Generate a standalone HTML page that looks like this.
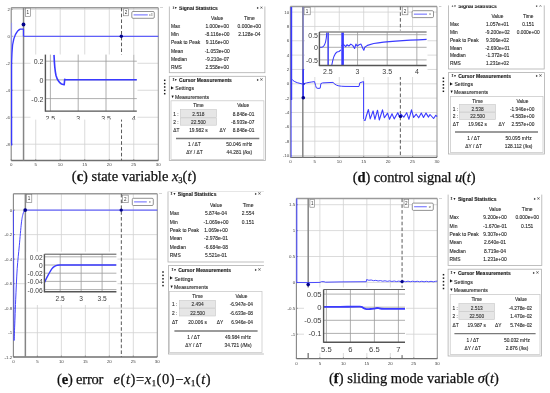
<!DOCTYPE html><html><head><meta charset="utf-8"><title>Simulation results</title><style>html,body{margin:0;padding:0;background:#fff;width:550px;height:393px;overflow:hidden}svg{display:block;position:absolute;left:0;top:0}.cap{position:absolute;white-space:nowrap;font-family:"Liberation Serif","Times New Roman",serif;color:#111;line-height:1}</style></head><body>
<svg width="550" height="393" viewBox="0 0 550 393">
<rect width="550" height="393" fill="#fff"/>
<line x1="35.72" y1="7.8" x2="35.72" y2="160.5" stroke="#d2d2d2" stroke-width="0.8" />
<line x1="60.23" y1="7.8" x2="60.23" y2="160.5" stroke="#d2d2d2" stroke-width="0.8" />
<line x1="84.75" y1="7.8" x2="84.75" y2="160.5" stroke="#d2d2d2" stroke-width="0.8" />
<line x1="109.27" y1="7.8" x2="109.27" y2="160.5" stroke="#d2d2d2" stroke-width="0.8" />
<line x1="133.78" y1="7.8" x2="133.78" y2="160.5" stroke="#d2d2d2" stroke-width="0.8" />
<line x1="11.2" y1="9.32" x2="158.3" y2="9.32" stroke="#d2d2d2" stroke-width="0.8" />
<line x1="11.2" y1="36.3" x2="158.3" y2="36.3" stroke="#d2d2d2" stroke-width="0.8" />
<line x1="11.2" y1="63.28" x2="158.3" y2="63.28" stroke="#d2d2d2" stroke-width="0.8" />
<line x1="11.2" y1="90.26" x2="158.3" y2="90.26" stroke="#d2d2d2" stroke-width="0.8" />
<line x1="11.2" y1="117.24" x2="158.3" y2="117.24" stroke="#d2d2d2" stroke-width="0.8" />
<line x1="11.2" y1="144.22" x2="158.3" y2="144.22" stroke="#d2d2d2" stroke-width="0.8" />
<text x="9.9" y="9.32" font-size="4.4" text-anchor="end" fill="#444" font-weight="normal" font-family="'Liberation Sans', Arial, sans-serif" dominant-baseline="central" >2</text>
<line x1="11.2" y1="9.32" x2="12.7" y2="9.32" stroke="#6a6a6a" stroke-width="0.6" />
<text x="9.9" y="36.3" font-size="4.4" text-anchor="end" fill="#444" font-weight="normal" font-family="'Liberation Sans', Arial, sans-serif" dominant-baseline="central" >0</text>
<line x1="11.2" y1="36.3" x2="12.7" y2="36.3" stroke="#6a6a6a" stroke-width="0.6" />
<text x="9.9" y="63.28" font-size="4.4" text-anchor="end" fill="#444" font-weight="normal" font-family="'Liberation Sans', Arial, sans-serif" dominant-baseline="central" >-2</text>
<line x1="11.2" y1="63.28" x2="12.7" y2="63.28" stroke="#6a6a6a" stroke-width="0.6" />
<text x="9.9" y="90.26" font-size="4.4" text-anchor="end" fill="#444" font-weight="normal" font-family="'Liberation Sans', Arial, sans-serif" dominant-baseline="central" >-4</text>
<line x1="11.2" y1="90.26" x2="12.7" y2="90.26" stroke="#6a6a6a" stroke-width="0.6" />
<text x="9.9" y="117.24" font-size="4.4" text-anchor="end" fill="#444" font-weight="normal" font-family="'Liberation Sans', Arial, sans-serif" dominant-baseline="central" >-6</text>
<line x1="11.2" y1="117.24" x2="12.7" y2="117.24" stroke="#6a6a6a" stroke-width="0.6" />
<text x="9.9" y="144.22" font-size="4.4" text-anchor="end" fill="#444" font-weight="normal" font-family="'Liberation Sans', Arial, sans-serif" dominant-baseline="central" >-8</text>
<line x1="11.2" y1="144.22" x2="12.7" y2="144.22" stroke="#6a6a6a" stroke-width="0.6" />
<text x="11.2" y="164.8" font-size="4.4" text-anchor="middle" fill="#444" font-weight="normal" font-family="'Liberation Sans', Arial, sans-serif" dominant-baseline="central" >0</text>
<line x1="11.2" y1="160.5" x2="11.2" y2="159" stroke="#6a6a6a" stroke-width="0.6" />
<text x="35.72" y="164.8" font-size="4.4" text-anchor="middle" fill="#444" font-weight="normal" font-family="'Liberation Sans', Arial, sans-serif" dominant-baseline="central" >5</text>
<line x1="35.72" y1="160.5" x2="35.72" y2="159" stroke="#6a6a6a" stroke-width="0.6" />
<text x="60.23" y="164.8" font-size="4.4" text-anchor="middle" fill="#444" font-weight="normal" font-family="'Liberation Sans', Arial, sans-serif" dominant-baseline="central" >10</text>
<line x1="60.23" y1="160.5" x2="60.23" y2="159" stroke="#6a6a6a" stroke-width="0.6" />
<text x="84.75" y="164.8" font-size="4.4" text-anchor="middle" fill="#444" font-weight="normal" font-family="'Liberation Sans', Arial, sans-serif" dominant-baseline="central" >15</text>
<line x1="84.75" y1="160.5" x2="84.75" y2="159" stroke="#6a6a6a" stroke-width="0.6" />
<text x="109.27" y="164.8" font-size="4.4" text-anchor="middle" fill="#444" font-weight="normal" font-family="'Liberation Sans', Arial, sans-serif" dominant-baseline="central" >20</text>
<line x1="109.27" y1="160.5" x2="109.27" y2="159" stroke="#6a6a6a" stroke-width="0.6" />
<text x="133.78" y="164.8" font-size="4.4" text-anchor="middle" fill="#444" font-weight="normal" font-family="'Liberation Sans', Arial, sans-serif" dominant-baseline="central" >25</text>
<line x1="133.78" y1="160.5" x2="133.78" y2="159" stroke="#6a6a6a" stroke-width="0.6" />
<text x="158.3" y="164.8" font-size="4.4" text-anchor="middle" fill="#444" font-weight="normal" font-family="'Liberation Sans', Arial, sans-serif" dominant-baseline="central" >30</text>
<line x1="158.3" y1="160.5" x2="158.3" y2="159" stroke="#6a6a6a" stroke-width="0.6" />
<line x1="11.2" y1="7.8" x2="158.3" y2="7.8" stroke="#9a9a9a" stroke-width="1.4" />
<line x1="158.3" y1="7.8" x2="158.3" y2="160.5" stroke="#9a9a9a" stroke-width="1.1" />
<line x1="11.2" y1="7.8" x2="11.2" y2="160.5" stroke="#858585" stroke-width="1.1" />
<line x1="11.2" y1="160.5" x2="158.3" y2="160.5" stroke="#707070" stroke-width="1.3" />
<line x1="23.55" y1="7.8" x2="23.55" y2="160.5" stroke="#858585" stroke-width="1.5" />
<line x1="121.53" y1="7.8" x2="121.53" y2="160.5" stroke="#5a5a5a" stroke-width="1.0" stroke-dasharray="3.6,2.2"/>
<path d="M11.6,22.8 L11.6,62" fill="none" stroke="#8a8aff" stroke-width="0.8"/>
<path d="M11.6,145.6 L11.6,62 C11.75,57 12.05,51 12.6,45 C13.2,40.5 14.2,37 15.4,34.6 C16.8,31.8 18.4,29.9 20.2,29.2 L23.5,29.1 L23.5,36.3" fill="none" stroke="#3a3aff" stroke-width="1.3" stroke-linejoin="round"/>
<path d="M23.5,36.3 L158.3,36.3" fill="none" stroke="#4040ff" stroke-width="1.0"/>
<circle cx="23.5" cy="24.5" r="1.9" fill="#00008b"/>
<circle cx="121.3" cy="36.3" r="1.7" fill="#00008b"/>
<rect x="25.3" y="8.2" width="5.2" height="8.1" fill="#fff" stroke="#777" stroke-width="0.6" />
<text x="27.9" y="12.55" font-size="4.6" text-anchor="middle" fill="#333" font-weight="normal" font-family="'Liberation Sans', Arial, sans-serif" dominant-baseline="central" >1</text>
<rect x="123.4" y="8.8" width="5.1" height="7" fill="#fff" stroke="#777" stroke-width="0.6" />
<text x="125.95" y="12.6" font-size="4.6" text-anchor="middle" fill="#333" font-weight="normal" font-family="'Liberation Sans', Arial, sans-serif" dominant-baseline="central" >2</text>
<rect x="131.8" y="11.5" width="22.5" height="6.8" rx="1.2" fill="#fff" stroke="#666" stroke-width="0.7"/>
<line x1="133.6" y1="14.9" x2="147.8" y2="14.9" stroke="#5555ff" stroke-width="0.9" />
<text x="150.8" y="15.1" font-size="3.2" text-anchor="middle" fill="#555" font-weight="normal" font-family="'Liberation Sans', Arial, sans-serif" dominant-baseline="central" >x3</text>
<text x="160.3" y="8" font-size="3.5" text-anchor="start" fill="#777" font-weight="normal" font-family="'Liberation Sans', Arial, sans-serif" dominant-baseline="central" >ᵘᵛ</text>
<rect x="30.5" y="54.5" width="107" height="65.1" fill="#fff" stroke="none" stroke-width="1" />
<clipPath id="icb"><rect x="30.5" y="54.5" width="107" height="65.1"/></clipPath>
<g clip-path="url(#icb)">
<text x="50.4" y="118.4" font-size="7" text-anchor="middle" fill="#3a3a3a" font-weight="normal" font-family="'Liberation Sans', Arial, sans-serif" dominant-baseline="central" >2.5</text>
<text x="78.2" y="118.4" font-size="7" text-anchor="middle" fill="#3a3a3a" font-weight="normal" font-family="'Liberation Sans', Arial, sans-serif" dominant-baseline="central" >3</text>
<text x="106" y="118.4" font-size="7" text-anchor="middle" fill="#3a3a3a" font-weight="normal" font-family="'Liberation Sans', Arial, sans-serif" dominant-baseline="central" >3.5</text>
<text x="133.8" y="118.4" font-size="7" text-anchor="middle" fill="#3a3a3a" font-weight="normal" font-family="'Liberation Sans', Arial, sans-serif" dominant-baseline="central" >4</text>
</g>
<line x1="50.4" y1="54.6" x2="50.4" y2="111.1" stroke="#9a9a9a" stroke-width="0.8" />
<line x1="78.2" y1="54.6" x2="78.2" y2="111.1" stroke="#9a9a9a" stroke-width="0.8" />
<line x1="106" y1="54.6" x2="106" y2="111.1" stroke="#9a9a9a" stroke-width="0.8" />
<line x1="133.8" y1="54.6" x2="133.8" y2="111.1" stroke="#9a9a9a" stroke-width="0.8" />
<line x1="45.4" y1="61.2" x2="136.8" y2="61.2" stroke="#9a9a9a" stroke-width="0.8" />
<text x="43.4" y="61.7" font-size="7" text-anchor="end" fill="#3a3a3a" font-weight="normal" font-family="'Liberation Sans', Arial, sans-serif" dominant-baseline="central" >0.2</text>
<line x1="45.4" y1="79.9" x2="136.8" y2="79.9" stroke="#9a9a9a" stroke-width="0.8" />
<text x="43.4" y="80.4" font-size="7" text-anchor="end" fill="#3a3a3a" font-weight="normal" font-family="'Liberation Sans', Arial, sans-serif" dominant-baseline="central" >0</text>
<line x1="45.4" y1="98.6" x2="136.8" y2="98.6" stroke="#9a9a9a" stroke-width="0.8" />
<text x="43.4" y="99.1" font-size="7" text-anchor="end" fill="#3a3a3a" font-weight="normal" font-family="'Liberation Sans', Arial, sans-serif" dominant-baseline="central" >-0.2</text>
<clipPath id="ic"><rect x="45.4" y="54.6" width="91.4" height="56.5"/></clipPath>
<g clip-path="url(#ic)">
<path d="M54,54.9 C54.3,62 54.8,70 56,75.5 C57,79 59,82.5 61.5,84 L64.2,84.8 L64.7,79.3 L65.2,79.6 L137,79.8" fill="none" stroke="#3a3aff" stroke-width="1.6" stroke-linejoin="round"/>
</g>
<line x1="45.4" y1="54.6" x2="45.4" y2="111.7" stroke="#555" stroke-width="1.4" />
<line x1="45.4" y1="111.1" x2="136.8" y2="111.1" stroke="#555" stroke-width="1.4" />
<line x1="314.83" y1="6.5" x2="314.83" y2="157.3" stroke="#d2d2d2" stroke-width="0.8" />
<line x1="339.27" y1="6.5" x2="339.27" y2="157.3" stroke="#d2d2d2" stroke-width="0.8" />
<line x1="363.7" y1="6.5" x2="363.7" y2="157.3" stroke="#d2d2d2" stroke-width="0.8" />
<line x1="388.13" y1="6.5" x2="388.13" y2="157.3" stroke="#d2d2d2" stroke-width="0.8" />
<line x1="412.57" y1="6.5" x2="412.57" y2="157.3" stroke="#d2d2d2" stroke-width="0.8" />
<line x1="290.4" y1="12.1" x2="437" y2="12.1" stroke="#d2d2d2" stroke-width="0.8" />
<line x1="290.4" y1="26.44" x2="437" y2="26.44" stroke="#d2d2d2" stroke-width="0.8" />
<line x1="290.4" y1="40.78" x2="437" y2="40.78" stroke="#d2d2d2" stroke-width="0.8" />
<line x1="290.4" y1="55.12" x2="437" y2="55.12" stroke="#d2d2d2" stroke-width="0.8" />
<line x1="290.4" y1="69.46" x2="437" y2="69.46" stroke="#d2d2d2" stroke-width="0.8" />
<line x1="290.4" y1="83.8" x2="437" y2="83.8" stroke="#d2d2d2" stroke-width="0.8" />
<line x1="290.4" y1="98.14" x2="437" y2="98.14" stroke="#d2d2d2" stroke-width="0.8" />
<line x1="290.4" y1="112.48" x2="437" y2="112.48" stroke="#d2d2d2" stroke-width="0.8" />
<line x1="290.4" y1="126.82" x2="437" y2="126.82" stroke="#d2d2d2" stroke-width="0.8" />
<line x1="290.4" y1="141.16" x2="437" y2="141.16" stroke="#d2d2d2" stroke-width="0.8" />
<line x1="290.4" y1="155.5" x2="437" y2="155.5" stroke="#d2d2d2" stroke-width="0.8" />
<text x="289.1" y="12.1" font-size="4.4" text-anchor="end" fill="#444" font-weight="normal" font-family="'Liberation Sans', Arial, sans-serif" dominant-baseline="central" >10</text>
<line x1="290.4" y1="12.1" x2="291.9" y2="12.1" stroke="#6a6a6a" stroke-width="0.6" />
<text x="289.1" y="26.44" font-size="4.4" text-anchor="end" fill="#444" font-weight="normal" font-family="'Liberation Sans', Arial, sans-serif" dominant-baseline="central" >8</text>
<line x1="290.4" y1="26.44" x2="291.9" y2="26.44" stroke="#6a6a6a" stroke-width="0.6" />
<text x="289.1" y="40.78" font-size="4.4" text-anchor="end" fill="#444" font-weight="normal" font-family="'Liberation Sans', Arial, sans-serif" dominant-baseline="central" >6</text>
<line x1="290.4" y1="40.78" x2="291.9" y2="40.78" stroke="#6a6a6a" stroke-width="0.6" />
<text x="289.1" y="55.12" font-size="4.4" text-anchor="end" fill="#444" font-weight="normal" font-family="'Liberation Sans', Arial, sans-serif" dominant-baseline="central" >4</text>
<line x1="290.4" y1="55.12" x2="291.9" y2="55.12" stroke="#6a6a6a" stroke-width="0.6" />
<text x="289.1" y="69.46" font-size="4.4" text-anchor="end" fill="#444" font-weight="normal" font-family="'Liberation Sans', Arial, sans-serif" dominant-baseline="central" >2</text>
<line x1="290.4" y1="69.46" x2="291.9" y2="69.46" stroke="#6a6a6a" stroke-width="0.6" />
<text x="289.1" y="83.8" font-size="4.4" text-anchor="end" fill="#444" font-weight="normal" font-family="'Liberation Sans', Arial, sans-serif" dominant-baseline="central" >0</text>
<line x1="290.4" y1="83.8" x2="291.9" y2="83.8" stroke="#6a6a6a" stroke-width="0.6" />
<text x="289.1" y="98.14" font-size="4.4" text-anchor="end" fill="#444" font-weight="normal" font-family="'Liberation Sans', Arial, sans-serif" dominant-baseline="central" >-2</text>
<line x1="290.4" y1="98.14" x2="291.9" y2="98.14" stroke="#6a6a6a" stroke-width="0.6" />
<text x="289.1" y="112.48" font-size="4.4" text-anchor="end" fill="#444" font-weight="normal" font-family="'Liberation Sans', Arial, sans-serif" dominant-baseline="central" >-4</text>
<line x1="290.4" y1="112.48" x2="291.9" y2="112.48" stroke="#6a6a6a" stroke-width="0.6" />
<text x="289.1" y="126.82" font-size="4.4" text-anchor="end" fill="#444" font-weight="normal" font-family="'Liberation Sans', Arial, sans-serif" dominant-baseline="central" >-6</text>
<line x1="290.4" y1="126.82" x2="291.9" y2="126.82" stroke="#6a6a6a" stroke-width="0.6" />
<text x="289.1" y="141.16" font-size="4.4" text-anchor="end" fill="#444" font-weight="normal" font-family="'Liberation Sans', Arial, sans-serif" dominant-baseline="central" >-8</text>
<line x1="290.4" y1="141.16" x2="291.9" y2="141.16" stroke="#6a6a6a" stroke-width="0.6" />
<text x="289.1" y="155.5" font-size="4.4" text-anchor="end" fill="#444" font-weight="normal" font-family="'Liberation Sans', Arial, sans-serif" dominant-baseline="central" >-10</text>
<line x1="290.4" y1="155.5" x2="291.9" y2="155.5" stroke="#6a6a6a" stroke-width="0.6" />
<text x="290.4" y="161.6" font-size="4.4" text-anchor="middle" fill="#444" font-weight="normal" font-family="'Liberation Sans', Arial, sans-serif" dominant-baseline="central" >0</text>
<line x1="290.4" y1="157.3" x2="290.4" y2="155.8" stroke="#6a6a6a" stroke-width="0.6" />
<text x="314.83" y="161.6" font-size="4.4" text-anchor="middle" fill="#444" font-weight="normal" font-family="'Liberation Sans', Arial, sans-serif" dominant-baseline="central" >5</text>
<line x1="314.83" y1="157.3" x2="314.83" y2="155.8" stroke="#6a6a6a" stroke-width="0.6" />
<text x="339.27" y="161.6" font-size="4.4" text-anchor="middle" fill="#444" font-weight="normal" font-family="'Liberation Sans', Arial, sans-serif" dominant-baseline="central" >10</text>
<line x1="339.27" y1="157.3" x2="339.27" y2="155.8" stroke="#6a6a6a" stroke-width="0.6" />
<text x="363.7" y="161.6" font-size="4.4" text-anchor="middle" fill="#444" font-weight="normal" font-family="'Liberation Sans', Arial, sans-serif" dominant-baseline="central" >15</text>
<line x1="363.7" y1="157.3" x2="363.7" y2="155.8" stroke="#6a6a6a" stroke-width="0.6" />
<text x="388.13" y="161.6" font-size="4.4" text-anchor="middle" fill="#444" font-weight="normal" font-family="'Liberation Sans', Arial, sans-serif" dominant-baseline="central" >20</text>
<line x1="388.13" y1="157.3" x2="388.13" y2="155.8" stroke="#6a6a6a" stroke-width="0.6" />
<text x="412.57" y="161.6" font-size="4.4" text-anchor="middle" fill="#444" font-weight="normal" font-family="'Liberation Sans', Arial, sans-serif" dominant-baseline="central" >25</text>
<line x1="412.57" y1="157.3" x2="412.57" y2="155.8" stroke="#6a6a6a" stroke-width="0.6" />
<text x="437" y="161.6" font-size="4.4" text-anchor="middle" fill="#444" font-weight="normal" font-family="'Liberation Sans', Arial, sans-serif" dominant-baseline="central" >30</text>
<line x1="437" y1="157.3" x2="437" y2="155.8" stroke="#6a6a6a" stroke-width="0.6" />
<line x1="290.4" y1="6.5" x2="437" y2="6.5" stroke="#9a9a9a" stroke-width="1.4" />
<line x1="437" y1="6.5" x2="437" y2="157.3" stroke="#9a9a9a" stroke-width="1.1" />
<line x1="290.4" y1="6.5" x2="290.4" y2="157.3" stroke="#858585" stroke-width="1.1" />
<line x1="290.4" y1="157.3" x2="437" y2="157.3" stroke="#707070" stroke-width="1.3" />
<line x1="302.8" y1="6.5" x2="302.8" y2="157.3" stroke="#858585" stroke-width="1.5" />
<line x1="400.35" y1="6.5" x2="400.35" y2="157.3" stroke="#5a5a5a" stroke-width="1.0" stroke-dasharray="3.6,2.2"/>
<path d="M291.4,7 L291.4,100" fill="none" stroke="#3a3aff" stroke-width="1.6" stroke-linejoin="round"/>
<path d="M291.2,100 L291.2,157.3" fill="none" stroke="#7070ff" stroke-width="1.2"/>
<path d="M303.2,69 L303.2,98" fill="none" stroke="#3a3aff" stroke-width="1.6" stroke-linejoin="round"/>
<path d="M303.2,7 L303.2,69" fill="none" stroke="#8080c8" stroke-width="1.3"/>
<path d="M291.5,79 C293,81 296,82.6 300,83.4 L303.3,84.3 L304.2,83.6 C307,82.6 311,82.1 314.5,81.6 L315.6,85.5 L316.3,87.8 L318,88.4 L320.2,88.2 L320.9,83.6 L322.6,82.9 L333,82.4 L335,84.3 C337,85.8 340,86.3 345,86.4 L359,86.5 L359.8,82.8 L362,82.1 L363.6,81.6 L363.6,119" fill="none" stroke="#3a3aff" stroke-width="1.0" stroke-linejoin="round"/>
<path d="M363.6,119.8 L365.1,120.4 L366.3,116 L368.4,109.5 L370.2,118.9 L373.1,110.9 L374.9,119.3 L377.5,110.2 L379.3,120 L382.5,109.8 L384.4,117.8 L387.6,113.1 L389.5,119.3 L392,113.8 L394.2,118.9 L397.8,112.7 L399.3,116.5 L400.9,114.2 L403.8,117.1 L406.7,112.7 L408.9,119.3 L411.5,109.8 L413.6,117.5 L416.2,114.2 L418.7,117.8 L421.3,113.1 L423.5,117.5 L426,113.1 L428.5,117.1 L430,114.5 L433.6,118.5 L435.8,115.3 L437.2,116.5" fill="none" stroke="#3a3aff" stroke-width="1.1" stroke-linejoin="round"/>
<circle cx="304" cy="84" r="0.9" fill="#1f1fd0"/>
<circle cx="303.3" cy="97.8" r="1.8" fill="#00008b"/>
<circle cx="400.5" cy="116.4" r="1.7" fill="#00008b"/>
<rect x="304.1" y="7.4" width="6.1" height="7.4" fill="#fff" stroke="#777" stroke-width="0.6" />
<text x="307.15" y="11.4" font-size="4.6" text-anchor="middle" fill="#333" font-weight="normal" font-family="'Liberation Sans', Arial, sans-serif" dominant-baseline="central" >1</text>
<rect x="402.2" y="6.9" width="5.7" height="7.9" fill="#fff" stroke="#777" stroke-width="0.6" />
<text x="405.05" y="11.15" font-size="4.6" text-anchor="middle" fill="#333" font-weight="normal" font-family="'Liberation Sans', Arial, sans-serif" dominant-baseline="central" >2</text>
<rect x="412.1" y="10.7" width="21.4" height="6.9" rx="1.2" fill="#fff" stroke="#666" stroke-width="0.7"/>
<line x1="413.9" y1="14.15" x2="427" y2="14.15" stroke="#5555ff" stroke-width="0.9" />
<text x="430" y="14.35" font-size="3.2" text-anchor="middle" fill="#555" font-weight="normal" font-family="'Liberation Sans', Arial, sans-serif" dominant-baseline="central" >u</text>
<text x="439" y="6.7" font-size="3.5" text-anchor="start" fill="#777" font-weight="normal" font-family="'Liberation Sans', Arial, sans-serif" dominant-baseline="central" >ᵘᵛ</text>
<rect x="305" y="30.5" width="122.5" height="46.5" fill="#fff" stroke="none" stroke-width="1" />
<clipPath id="idb"><rect x="305" y="30.5" width="122.5" height="46.5"/></clipPath>
<g clip-path="url(#idb)">
<text x="327.9" y="71" font-size="7.0" text-anchor="middle" fill="#3a3a3a" font-weight="normal" font-family="'Liberation Sans', Arial, sans-serif" dominant-baseline="central" >2.5</text>
<text x="357.55" y="71" font-size="7.0" text-anchor="middle" fill="#3a3a3a" font-weight="normal" font-family="'Liberation Sans', Arial, sans-serif" dominant-baseline="central" >3</text>
<text x="387.2" y="71" font-size="7.0" text-anchor="middle" fill="#3a3a3a" font-weight="normal" font-family="'Liberation Sans', Arial, sans-serif" dominant-baseline="central" >3.5</text>
<text x="416.85" y="71" font-size="7.0" text-anchor="middle" fill="#3a3a3a" font-weight="normal" font-family="'Liberation Sans', Arial, sans-serif" dominant-baseline="central" >4</text>
</g>
<line x1="327.9" y1="32" x2="327.9" y2="65.5" stroke="#9a9a9a" stroke-width="0.8" />
<line x1="357.55" y1="32" x2="357.55" y2="65.5" stroke="#9a9a9a" stroke-width="0.8" />
<line x1="387.2" y1="32" x2="387.2" y2="65.5" stroke="#9a9a9a" stroke-width="0.8" />
<line x1="416.85" y1="32" x2="416.85" y2="65.5" stroke="#9a9a9a" stroke-width="0.8" />
<line x1="319.4" y1="34.7" x2="426.6" y2="34.7" stroke="#9a9a9a" stroke-width="0.8" />
<text x="318" y="35.2" font-size="7.0" text-anchor="end" fill="#3a3a3a" font-weight="normal" font-family="'Liberation Sans', Arial, sans-serif" dominant-baseline="central" >0.5</text>
<line x1="319.4" y1="47.3" x2="426.6" y2="47.3" stroke="#9a9a9a" stroke-width="0.8" />
<text x="318" y="47.8" font-size="7.0" text-anchor="end" fill="#3a3a3a" font-weight="normal" font-family="'Liberation Sans', Arial, sans-serif" dominant-baseline="central" >0</text>
<line x1="319.4" y1="59.9" x2="426.6" y2="59.9" stroke="#9a9a9a" stroke-width="0.8" />
<text x="318" y="60.4" font-size="7.0" text-anchor="end" fill="#3a3a3a" font-weight="normal" font-family="'Liberation Sans', Arial, sans-serif" dominant-baseline="central" >-0.5</text>
<clipPath id="id"><rect x="319.4" y="32" width="107.2" height="33.5"/></clipPath>
<g clip-path="url(#id)">
<path d="M319.4,47.3 L322,47.2 C324,46.8 325.5,44 326.3,38 L326.9,31" fill="none" stroke="#3a3aff" stroke-width="1.1" stroke-linejoin="round"/>
<path d="M328.2,31 L328.2,66" fill="none" stroke="#3a3aff" stroke-width="1.3" stroke-linejoin="round"/>
<path d="M331.6,66 C333,58 335,53 337,52 L339,51.5 L341,49.8" fill="none" stroke="#3a3aff" stroke-width="1.1" stroke-linejoin="round"/>
<path d="M342.6,31 L342.6,66" fill="none" stroke="#3a3aff" stroke-width="2.6" stroke-linejoin="round"/>
<path d="M341.5,46 L343.2,44.1 L345.7,46.6 L347,44.7 L348.9,46 L350.8,44.1 L352.7,45.4 L354.6,48.5 L355.9,44.1 L357.2,46 L359.1,44.7 L361,44.1 L362.9,48.5 L363.8,50.2 L364.8,47.3 L367.4,45.4 L373.7,43.5 C385,41.8 405,40.3 427,39.4" fill="none" stroke="#3a3aff" stroke-width="1.1" stroke-linejoin="round"/>
</g>
<line x1="319.4" y1="32" x2="426.6" y2="32" stroke="#8a8a8a" stroke-width="1.5" />
<line x1="319.4" y1="32" x2="319.4" y2="66.1" stroke="#555" stroke-width="1.4" />
<line x1="319.4" y1="65.5" x2="426.6" y2="65.5" stroke="#555" stroke-width="1.4" />
<line x1="37.38" y1="193.8" x2="37.38" y2="357" stroke="#d2d2d2" stroke-width="0.8" />
<line x1="61.37" y1="193.8" x2="61.37" y2="357" stroke="#d2d2d2" stroke-width="0.8" />
<line x1="85.35" y1="193.8" x2="85.35" y2="357" stroke="#d2d2d2" stroke-width="0.8" />
<line x1="109.33" y1="193.8" x2="109.33" y2="357" stroke="#d2d2d2" stroke-width="0.8" />
<line x1="133.32" y1="193.8" x2="133.32" y2="357" stroke="#d2d2d2" stroke-width="0.8" />
<line x1="13.4" y1="210.1" x2="157.3" y2="210.1" stroke="#d2d2d2" stroke-width="0.8" />
<line x1="13.4" y1="234.62" x2="157.3" y2="234.62" stroke="#d2d2d2" stroke-width="0.8" />
<line x1="13.4" y1="259.14" x2="157.3" y2="259.14" stroke="#d2d2d2" stroke-width="0.8" />
<line x1="13.4" y1="283.66" x2="157.3" y2="283.66" stroke="#d2d2d2" stroke-width="0.8" />
<line x1="13.4" y1="308.18" x2="157.3" y2="308.18" stroke="#d2d2d2" stroke-width="0.8" />
<line x1="13.4" y1="332.7" x2="157.3" y2="332.7" stroke="#d2d2d2" stroke-width="0.8" />
<text x="12.1" y="210.1" font-size="4.4" text-anchor="end" fill="#444" font-weight="normal" font-family="'Liberation Sans', Arial, sans-serif" dominant-baseline="central" >0</text>
<line x1="13.4" y1="210.1" x2="14.9" y2="210.1" stroke="#6a6a6a" stroke-width="0.6" />
<text x="12.1" y="234.62" font-size="4.4" text-anchor="end" fill="#444" font-weight="normal" font-family="'Liberation Sans', Arial, sans-serif" dominant-baseline="central" >-0.2</text>
<line x1="13.4" y1="234.62" x2="14.9" y2="234.62" stroke="#6a6a6a" stroke-width="0.6" />
<text x="12.1" y="259.14" font-size="4.4" text-anchor="end" fill="#444" font-weight="normal" font-family="'Liberation Sans', Arial, sans-serif" dominant-baseline="central" >-0.4</text>
<line x1="13.4" y1="259.14" x2="14.9" y2="259.14" stroke="#6a6a6a" stroke-width="0.6" />
<text x="12.1" y="283.66" font-size="4.4" text-anchor="end" fill="#444" font-weight="normal" font-family="'Liberation Sans', Arial, sans-serif" dominant-baseline="central" >-0.6</text>
<line x1="13.4" y1="283.66" x2="14.9" y2="283.66" stroke="#6a6a6a" stroke-width="0.6" />
<text x="12.1" y="308.18" font-size="4.4" text-anchor="end" fill="#444" font-weight="normal" font-family="'Liberation Sans', Arial, sans-serif" dominant-baseline="central" >-0.8</text>
<line x1="13.4" y1="308.18" x2="14.9" y2="308.18" stroke="#6a6a6a" stroke-width="0.6" />
<text x="12.1" y="332.7" font-size="4.4" text-anchor="end" fill="#444" font-weight="normal" font-family="'Liberation Sans', Arial, sans-serif" dominant-baseline="central" >-1</text>
<line x1="13.4" y1="332.7" x2="14.9" y2="332.7" stroke="#6a6a6a" stroke-width="0.6" />
<text x="12.1" y="357.22" font-size="4.4" text-anchor="end" fill="#444" font-weight="normal" font-family="'Liberation Sans', Arial, sans-serif" dominant-baseline="central" >-1.2</text>
<line x1="13.4" y1="357.22" x2="14.9" y2="357.22" stroke="#6a6a6a" stroke-width="0.6" />
<text x="13.4" y="361.3" font-size="4.4" text-anchor="middle" fill="#444" font-weight="normal" font-family="'Liberation Sans', Arial, sans-serif" dominant-baseline="central" >0</text>
<line x1="13.4" y1="357" x2="13.4" y2="355.5" stroke="#6a6a6a" stroke-width="0.6" />
<text x="37.38" y="361.3" font-size="4.4" text-anchor="middle" fill="#444" font-weight="normal" font-family="'Liberation Sans', Arial, sans-serif" dominant-baseline="central" >5</text>
<line x1="37.38" y1="357" x2="37.38" y2="355.5" stroke="#6a6a6a" stroke-width="0.6" />
<text x="61.37" y="361.3" font-size="4.4" text-anchor="middle" fill="#444" font-weight="normal" font-family="'Liberation Sans', Arial, sans-serif" dominant-baseline="central" >10</text>
<line x1="61.37" y1="357" x2="61.37" y2="355.5" stroke="#6a6a6a" stroke-width="0.6" />
<text x="85.35" y="361.3" font-size="4.4" text-anchor="middle" fill="#444" font-weight="normal" font-family="'Liberation Sans', Arial, sans-serif" dominant-baseline="central" >15</text>
<line x1="85.35" y1="357" x2="85.35" y2="355.5" stroke="#6a6a6a" stroke-width="0.6" />
<text x="109.33" y="361.3" font-size="4.4" text-anchor="middle" fill="#444" font-weight="normal" font-family="'Liberation Sans', Arial, sans-serif" dominant-baseline="central" >20</text>
<line x1="109.33" y1="357" x2="109.33" y2="355.5" stroke="#6a6a6a" stroke-width="0.6" />
<text x="133.32" y="361.3" font-size="4.4" text-anchor="middle" fill="#444" font-weight="normal" font-family="'Liberation Sans', Arial, sans-serif" dominant-baseline="central" >25</text>
<line x1="133.32" y1="357" x2="133.32" y2="355.5" stroke="#6a6a6a" stroke-width="0.6" />
<text x="157.3" y="361.3" font-size="4.4" text-anchor="middle" fill="#444" font-weight="normal" font-family="'Liberation Sans', Arial, sans-serif" dominant-baseline="central" >30</text>
<line x1="157.3" y1="357" x2="157.3" y2="355.5" stroke="#6a6a6a" stroke-width="0.6" />
<line x1="13.4" y1="193.8" x2="157.3" y2="193.8" stroke="#9a9a9a" stroke-width="1.4" />
<line x1="157.3" y1="193.8" x2="157.3" y2="357" stroke="#9a9a9a" stroke-width="1.1" />
<line x1="13.4" y1="193.8" x2="13.4" y2="357" stroke="#858585" stroke-width="1.1" />
<line x1="13.4" y1="357" x2="157.3" y2="357" stroke="#707070" stroke-width="1.3" />
<line x1="25.36" y1="193.8" x2="25.36" y2="357" stroke="#858585" stroke-width="1.5" />
<line x1="121.33" y1="193.8" x2="121.33" y2="357" stroke="#5a5a5a" stroke-width="1.0" stroke-dasharray="3.6,2.2"/>
<path d="M13.4,210.1 L14.1,340.5" fill="none" stroke="#3a3aff" stroke-width="0.8" stroke-linejoin="round"/>
<path d="M14.1,340.5 C14.25,336.75 14.73,324.88 15,318 C15.27,311.12 15.33,307.42 15.7,299.2 C16.07,290.98 16.6,277.6 17.2,268.7 C17.8,259.8 18.6,253.42 19.3,245.8 C20,238.18 20.78,228.3 21.4,223 C22.02,217.7 22.47,216.1 23,214 C23.53,211.9 24.1,211.05 24.6,210.4 C25.1,209.75 25.77,210.15 26,210.1 L157.3,210.1" fill="none" stroke="#4545ff" stroke-width="1.0" stroke-linejoin="round"/>
<circle cx="25.2" cy="210.1" r="1.9" fill="#00008b"/>
<circle cx="121.2" cy="210.1" r="1.7" fill="#00008b"/>
<rect x="26.5" y="194.6" width="5.3" height="7.9" fill="#fff" stroke="#777" stroke-width="0.6" />
<text x="29.15" y="198.85" font-size="4.6" text-anchor="middle" fill="#333" font-weight="normal" font-family="'Liberation Sans', Arial, sans-serif" dominant-baseline="central" >1</text>
<rect x="122.3" y="195.1" width="5.9" height="7.6" fill="#fff" stroke="#777" stroke-width="0.6" />
<text x="125.25" y="199.2" font-size="4.6" text-anchor="middle" fill="#333" font-weight="normal" font-family="'Liberation Sans', Arial, sans-serif" dominant-baseline="central" >2</text>
<rect x="132.3" y="198.3" width="21" height="7.2" rx="1.2" fill="#fff" stroke="#666" stroke-width="0.7"/>
<line x1="134.1" y1="201.9" x2="146.8" y2="201.9" stroke="#5555ff" stroke-width="0.9" />
<text x="149.8" y="202.1" font-size="3.2" text-anchor="middle" fill="#555" font-weight="normal" font-family="'Liberation Sans', Arial, sans-serif" dominant-baseline="central" >e</text>
<text x="159.3" y="194" font-size="3.5" text-anchor="start" fill="#777" font-weight="normal" font-family="'Liberation Sans', Arial, sans-serif" dominant-baseline="central" >ᵘᵛ</text>
<rect x="26.6" y="251.7" width="90.9" height="53.3" fill="#fff" stroke="none" stroke-width="1" />
<clipPath id="ieb"><rect x="26.6" y="251.7" width="90.9" height="53.3"/></clipPath>
<g clip-path="url(#ieb)">
<text x="60.2" y="298.1" font-size="6.6" text-anchor="middle" fill="#3a3a3a" font-weight="normal" font-family="'Liberation Sans', Arial, sans-serif" dominant-baseline="central" >2.5</text>
<text x="81.15" y="298.1" font-size="6.6" text-anchor="middle" fill="#3a3a3a" font-weight="normal" font-family="'Liberation Sans', Arial, sans-serif" dominant-baseline="central" >3</text>
<text x="102.1" y="298.1" font-size="6.6" text-anchor="middle" fill="#3a3a3a" font-weight="normal" font-family="'Liberation Sans', Arial, sans-serif" dominant-baseline="central" >3.5</text>
</g>
<line x1="60.2" y1="254.2" x2="60.2" y2="291.8" stroke="#9a9a9a" stroke-width="0.8" />
<line x1="81.15" y1="254.2" x2="81.15" y2="291.8" stroke="#9a9a9a" stroke-width="0.8" />
<line x1="102.1" y1="254.2" x2="102.1" y2="291.8" stroke="#9a9a9a" stroke-width="0.8" />
<line x1="44.4" y1="256.8" x2="116.4" y2="256.8" stroke="#9a9a9a" stroke-width="0.8" />
<text x="42.6" y="257.3" font-size="6.6" text-anchor="end" fill="#3a3a3a" font-weight="normal" font-family="'Liberation Sans', Arial, sans-serif" dominant-baseline="central" >0.02</text>
<line x1="44.4" y1="265" x2="116.4" y2="265" stroke="#9a9a9a" stroke-width="0.8" />
<text x="42.6" y="265.5" font-size="6.6" text-anchor="end" fill="#3a3a3a" font-weight="normal" font-family="'Liberation Sans', Arial, sans-serif" dominant-baseline="central" >0</text>
<line x1="44.4" y1="273.2" x2="116.4" y2="273.2" stroke="#9a9a9a" stroke-width="0.8" />
<text x="42.6" y="273.7" font-size="6.6" text-anchor="end" fill="#3a3a3a" font-weight="normal" font-family="'Liberation Sans', Arial, sans-serif" dominant-baseline="central" >-0.02</text>
<line x1="44.4" y1="281.4" x2="116.4" y2="281.4" stroke="#9a9a9a" stroke-width="0.8" />
<text x="42.6" y="281.9" font-size="6.6" text-anchor="end" fill="#3a3a3a" font-weight="normal" font-family="'Liberation Sans', Arial, sans-serif" dominant-baseline="central" >-0.04</text>
<line x1="44.4" y1="289.6" x2="116.4" y2="289.6" stroke="#9a9a9a" stroke-width="0.8" />
<text x="42.6" y="290.1" font-size="6.6" text-anchor="end" fill="#3a3a3a" font-weight="normal" font-family="'Liberation Sans', Arial, sans-serif" dominant-baseline="central" >-0.06</text>
<clipPath id="ie"><rect x="44.4" y="254.2" width="72" height="37.6"/></clipPath>
<g clip-path="url(#ie)">
<path d="M44.4,282.5 C45,281.3 46.73,277.62 48,275.3 C49.27,272.98 50.83,270.13 52,268.6 C53.17,267.07 54.08,266.67 55,266.1 C55.92,265.53 56.67,265.38 57.5,265.2 C58.33,265.02 59.25,265.03 60,265 C60.75,264.97 61.67,265 62,265 L116.6,265" fill="none" stroke="#3a3aff" stroke-width="1.4" stroke-linejoin="round"/>
</g>
<line x1="44.4" y1="254.2" x2="116.4" y2="254.2" stroke="#555" stroke-width="1.0" />
<line x1="44.4" y1="254.2" x2="44.4" y2="292.4" stroke="#555" stroke-width="1.4" />
<line x1="44.4" y1="291.8" x2="116.4" y2="291.8" stroke="#555" stroke-width="1.4" />
<line x1="319.88" y1="198.5" x2="319.88" y2="358.7" stroke="#d2d2d2" stroke-width="0.8" />
<line x1="343.37" y1="198.5" x2="343.37" y2="358.7" stroke="#d2d2d2" stroke-width="0.8" />
<line x1="366.85" y1="198.5" x2="366.85" y2="358.7" stroke="#d2d2d2" stroke-width="0.8" />
<line x1="390.33" y1="198.5" x2="390.33" y2="358.7" stroke="#d2d2d2" stroke-width="0.8" />
<line x1="413.82" y1="198.5" x2="413.82" y2="358.7" stroke="#d2d2d2" stroke-width="0.8" />
<line x1="296.4" y1="204.7" x2="437.3" y2="204.7" stroke="#d2d2d2" stroke-width="0.8" />
<line x1="296.4" y1="230.6" x2="437.3" y2="230.6" stroke="#d2d2d2" stroke-width="0.8" />
<line x1="296.4" y1="256.5" x2="437.3" y2="256.5" stroke="#d2d2d2" stroke-width="0.8" />
<line x1="296.4" y1="282.4" x2="437.3" y2="282.4" stroke="#d2d2d2" stroke-width="0.8" />
<line x1="296.4" y1="308.3" x2="437.3" y2="308.3" stroke="#d2d2d2" stroke-width="0.8" />
<line x1="296.4" y1="334.2" x2="437.3" y2="334.2" stroke="#d2d2d2" stroke-width="0.8" />
<text x="295.1" y="204.7" font-size="4.4" text-anchor="end" fill="#444" font-weight="normal" font-family="'Liberation Sans', Arial, sans-serif" dominant-baseline="central" >1.5</text>
<line x1="296.4" y1="204.7" x2="297.9" y2="204.7" stroke="#6a6a6a" stroke-width="0.6" />
<text x="295.1" y="230.6" font-size="4.4" text-anchor="end" fill="#444" font-weight="normal" font-family="'Liberation Sans', Arial, sans-serif" dominant-baseline="central" >1</text>
<line x1="296.4" y1="230.6" x2="297.9" y2="230.6" stroke="#6a6a6a" stroke-width="0.6" />
<text x="295.1" y="256.5" font-size="4.4" text-anchor="end" fill="#444" font-weight="normal" font-family="'Liberation Sans', Arial, sans-serif" dominant-baseline="central" >0.5</text>
<line x1="296.4" y1="256.5" x2="297.9" y2="256.5" stroke="#6a6a6a" stroke-width="0.6" />
<text x="295.1" y="282.4" font-size="4.4" text-anchor="end" fill="#444" font-weight="normal" font-family="'Liberation Sans', Arial, sans-serif" dominant-baseline="central" >0</text>
<line x1="296.4" y1="282.4" x2="297.9" y2="282.4" stroke="#6a6a6a" stroke-width="0.6" />
<text x="295.1" y="308.3" font-size="4.4" text-anchor="end" fill="#444" font-weight="normal" font-family="'Liberation Sans', Arial, sans-serif" dominant-baseline="central" >-0.5</text>
<line x1="296.4" y1="308.3" x2="297.9" y2="308.3" stroke="#6a6a6a" stroke-width="0.6" />
<text x="295.1" y="334.2" font-size="4.4" text-anchor="end" fill="#444" font-weight="normal" font-family="'Liberation Sans', Arial, sans-serif" dominant-baseline="central" >-1</text>
<line x1="296.4" y1="334.2" x2="297.9" y2="334.2" stroke="#6a6a6a" stroke-width="0.6" />
<text x="296.4" y="363" font-size="4.4" text-anchor="middle" fill="#444" font-weight="normal" font-family="'Liberation Sans', Arial, sans-serif" dominant-baseline="central" >0</text>
<line x1="296.4" y1="358.7" x2="296.4" y2="357.2" stroke="#6a6a6a" stroke-width="0.6" />
<text x="319.88" y="363" font-size="4.4" text-anchor="middle" fill="#444" font-weight="normal" font-family="'Liberation Sans', Arial, sans-serif" dominant-baseline="central" >5</text>
<line x1="319.88" y1="358.7" x2="319.88" y2="357.2" stroke="#6a6a6a" stroke-width="0.6" />
<text x="343.37" y="363" font-size="4.4" text-anchor="middle" fill="#444" font-weight="normal" font-family="'Liberation Sans', Arial, sans-serif" dominant-baseline="central" >10</text>
<line x1="343.37" y1="358.7" x2="343.37" y2="357.2" stroke="#6a6a6a" stroke-width="0.6" />
<text x="366.85" y="363" font-size="4.4" text-anchor="middle" fill="#444" font-weight="normal" font-family="'Liberation Sans', Arial, sans-serif" dominant-baseline="central" >15</text>
<line x1="366.85" y1="358.7" x2="366.85" y2="357.2" stroke="#6a6a6a" stroke-width="0.6" />
<text x="390.33" y="363" font-size="4.4" text-anchor="middle" fill="#444" font-weight="normal" font-family="'Liberation Sans', Arial, sans-serif" dominant-baseline="central" >20</text>
<line x1="390.33" y1="358.7" x2="390.33" y2="357.2" stroke="#6a6a6a" stroke-width="0.6" />
<text x="413.82" y="363" font-size="4.4" text-anchor="middle" fill="#444" font-weight="normal" font-family="'Liberation Sans', Arial, sans-serif" dominant-baseline="central" >25</text>
<line x1="413.82" y1="358.7" x2="413.82" y2="357.2" stroke="#6a6a6a" stroke-width="0.6" />
<text x="437.3" y="363" font-size="4.4" text-anchor="middle" fill="#444" font-weight="normal" font-family="'Liberation Sans', Arial, sans-serif" dominant-baseline="central" >30</text>
<line x1="437.3" y1="358.7" x2="437.3" y2="357.2" stroke="#6a6a6a" stroke-width="0.6" />
<line x1="296.4" y1="198.5" x2="437.3" y2="198.5" stroke="#9a9a9a" stroke-width="1.4" />
<line x1="437.3" y1="198.5" x2="437.3" y2="358.7" stroke="#9a9a9a" stroke-width="1.1" />
<line x1="296.4" y1="198.5" x2="296.4" y2="358.7" stroke="#858585" stroke-width="1.1" />
<line x1="296.4" y1="358.7" x2="437.3" y2="358.7" stroke="#707070" stroke-width="1.3" />
<line x1="308.2" y1="198.5" x2="308.2" y2="358.7" stroke="#858585" stroke-width="1.5" />
<line x1="402.07" y1="198.5" x2="402.07" y2="358.7" stroke="#5a5a5a" stroke-width="1.0" stroke-dasharray="3.6,2.2"/>
<path d="M296.8,198.5 L296.8,283" fill="none" stroke="#5050ff" stroke-width="1.1"/>
<path d="M296.8,282.6 L300,282.5 L308,282.6 L315,282.5 L320,282.4 L321.5,281.6 L324,281.7 L325.5,282.2 L340,281.9 L366.3,281.7 L366.6,279.6 L366.6,279.55 L368.9,280.29 L371.2,280 L373.5,280.68 L375.8,280.34 L378.1,280.97 L380.4,280.59 L382.7,281.19 L385,280.78 L387.3,281.36 L389.6,280.92 L391.9,281.48 L394.2,281.03 L396.5,281.57 L398.8,281.11 L401.1,281.64 L403.4,281.17 L405.7,281.69 L408,281.21 L410.3,281.73 L412.6,281.25 L414.9,281.76 L417.2,281.27 L419.5,281.78 L421.8,281.29 L424.1,281.8 L426.4,281.31 L428.7,281.81 L431,281.32 L433.3,281.82 L435.6,281.33 L437.3,281.1" fill="none" stroke="#3a3aff" stroke-width="0.9" stroke-linejoin="round"/>
<circle cx="308.2" cy="284.6" r="1.8" fill="#00008b"/>
<circle cx="402.1" cy="281.6" r="1.7" fill="#00008b"/>
<rect x="309.9" y="199.4" width="4.7" height="7.8" fill="#fff" stroke="#777" stroke-width="0.6" />
<text x="312.25" y="203.6" font-size="4.6" text-anchor="middle" fill="#333" font-weight="normal" font-family="'Liberation Sans', Arial, sans-serif" dominant-baseline="central" >1</text>
<rect x="404" y="199.4" width="4.7" height="7.8" fill="#fff" stroke="#777" stroke-width="0.6" />
<text x="406.35" y="203.6" font-size="4.6" text-anchor="middle" fill="#333" font-weight="normal" font-family="'Liberation Sans', Arial, sans-serif" dominant-baseline="central" >2</text>
<rect x="412.3" y="203.1" width="21" height="7.3" rx="1.2" fill="#fff" stroke="#666" stroke-width="0.7"/>
<line x1="414.1" y1="206.75" x2="426.8" y2="206.75" stroke="#5555ff" stroke-width="0.9" />
<text x="429.8" y="206.95" font-size="3.2" text-anchor="middle" fill="#555" font-weight="normal" font-family="'Liberation Sans', Arial, sans-serif" dominant-baseline="central" >σ</text>
<text x="439.3" y="198.7" font-size="3.5" text-anchor="start" fill="#777" font-weight="normal" font-family="'Liberation Sans', Arial, sans-serif" dominant-baseline="central" >ᵘᵛ</text>
<rect x="304" y="287.5" width="102" height="65.5" fill="#fff" stroke="none" stroke-width="1" />
<clipPath id="ifb"><rect x="304" y="287.5" width="102" height="65.5"/></clipPath>
<g clip-path="url(#ifb)">
<text x="326.4" y="349.3" font-size="7.6" text-anchor="middle" fill="#3a3a3a" font-weight="normal" font-family="'Liberation Sans', Arial, sans-serif" dominant-baseline="central" >5.5</text>
<text x="350.4" y="349.3" font-size="7.6" text-anchor="middle" fill="#3a3a3a" font-weight="normal" font-family="'Liberation Sans', Arial, sans-serif" dominant-baseline="central" >6</text>
<text x="374.4" y="349.3" font-size="7.6" text-anchor="middle" fill="#3a3a3a" font-weight="normal" font-family="'Liberation Sans', Arial, sans-serif" dominant-baseline="central" >6.5</text>
<text x="398.4" y="349.3" font-size="7.6" text-anchor="middle" fill="#3a3a3a" font-weight="normal" font-family="'Liberation Sans', Arial, sans-serif" dominant-baseline="central" >7</text>
</g>
<line x1="326.4" y1="289.5" x2="326.4" y2="342.2" stroke="#9a9a9a" stroke-width="0.8" />
<line x1="350.4" y1="289.5" x2="350.4" y2="342.2" stroke="#9a9a9a" stroke-width="0.8" />
<line x1="374.4" y1="289.5" x2="374.4" y2="342.2" stroke="#9a9a9a" stroke-width="0.8" />
<line x1="398.4" y1="289.5" x2="398.4" y2="342.2" stroke="#9a9a9a" stroke-width="0.8" />
<line x1="323.6" y1="294.1" x2="405" y2="294.1" stroke="#9a9a9a" stroke-width="0.8" />
<text x="321.6" y="294.6" font-size="7.6" text-anchor="end" fill="#3a3a3a" font-weight="normal" font-family="'Liberation Sans', Arial, sans-serif" dominant-baseline="central" >0.05</text>
<line x1="323.6" y1="307.2" x2="405" y2="307.2" stroke="#9a9a9a" stroke-width="0.8" />
<text x="321.6" y="307.7" font-size="7.6" text-anchor="end" fill="#3a3a3a" font-weight="normal" font-family="'Liberation Sans', Arial, sans-serif" dominant-baseline="central" >0</text>
<line x1="323.6" y1="320.3" x2="405" y2="320.3" stroke="#9a9a9a" stroke-width="0.8" />
<text x="321.6" y="320.8" font-size="7.6" text-anchor="end" fill="#3a3a3a" font-weight="normal" font-family="'Liberation Sans', Arial, sans-serif" dominant-baseline="central" >-0.05</text>
<line x1="323.6" y1="333.4" x2="405" y2="333.4" stroke="#9a9a9a" stroke-width="0.8" />
<text x="321.6" y="333.9" font-size="7.6" text-anchor="end" fill="#3a3a3a" font-weight="normal" font-family="'Liberation Sans', Arial, sans-serif" dominant-baseline="central" >-0.1</text>
<clipPath id="if"><rect x="323.6" y="289.5" width="81.4" height="52.7"/></clipPath>
<g clip-path="url(#if)">
<path d="M323.6,306.9 C326.33,306.88 334.27,306.83 340,306.8 C345.73,306.77 354.42,306.68 358,306.7 C361.58,306.72 360.5,306.63 361.5,306.9 C362.5,307.17 363.17,307.93 364,308.3 C364.83,308.67 365.5,308.98 366.5,309.1 C367.5,309.22 368.75,309.08 370,309 C371.25,308.92 372.83,308.77 374,308.6 C375.17,308.43 376,308.02 377,308 C378,307.98 378.83,308.35 380,308.5 C381.17,308.65 379.75,308.83 384,308.9 C388.25,308.97 401.92,308.9 405.5,308.9" fill="none" stroke="#3a3aff" stroke-width="1.8" stroke-linejoin="round"/>
</g>
<line x1="323.6" y1="289.5" x2="405" y2="289.5" stroke="#555" stroke-width="0.9" />
<line x1="323.6" y1="289.5" x2="323.6" y2="342.8" stroke="#555" stroke-width="1.4" />
<line x1="323.6" y1="342.2" x2="405" y2="342.2" stroke="#555" stroke-width="1.4" />
<rect x="169.3" y="-3" width="95.6" height="75.7" fill="#fff" stroke="#b0b0b0" stroke-width="0.8" />
<text transform="translate(171.5,7.7) scale(0.88,1)" font-size="3.6" text-anchor="start" fill="#333" font-weight="normal" font-family="'Liberation Sans', Arial, sans-serif" dominant-baseline="central"  stroke="#333" stroke-width="0.12">⇕</text>
<text transform="translate(174.3,7.7) scale(0.88,1)" font-size="3.4" text-anchor="start" fill="#222" font-weight="normal" font-family="'Liberation Sans', Arial, sans-serif" dominant-baseline="central"  stroke="#222" stroke-width="0.12">▼</text>
<text x="179.1" y="7.7" font-size="5.0" text-anchor="start" fill="#1a1a1a" font-weight="bold" font-family="'Liberation Sans', Arial, sans-serif" dominant-baseline="central"  stroke="#1a1a1a" stroke-width="0.12">Signal Statistics</text>
<text transform="translate(256.6,7.7) scale(0.88,1)" font-size="3.6" text-anchor="start" fill="#333" font-weight="normal" font-family="'Liberation Sans', Arial, sans-serif" dominant-baseline="central"  stroke="#333" stroke-width="0.12">▸</text>
<text transform="translate(259.7,7.7) scale(0.88,1)" font-size="3.8" text-anchor="start" fill="#333" font-weight="normal" font-family="'Liberation Sans', Arial, sans-serif" dominant-baseline="central"  stroke="#333" stroke-width="0.12">✕</text>
<text transform="translate(217.2,17.6) scale(0.88,1)" font-size="5.6" text-anchor="middle" fill="#2a2a2a" font-weight="normal" font-family="'Liberation Sans', Arial, sans-serif" dominant-baseline="central"  stroke="#2a2a2a" stroke-width="0.12">Value</text>
<text transform="translate(249.3,17.6) scale(0.88,1)" font-size="5.6" text-anchor="middle" fill="#2a2a2a" font-weight="normal" font-family="'Liberation Sans', Arial, sans-serif" dominant-baseline="central"  stroke="#2a2a2a" stroke-width="0.12">Time</text>
<text transform="translate(170.9,26.2) scale(0.88,1)" font-size="5.6" text-anchor="start" fill="#2a2a2a" font-weight="normal" font-family="'Liberation Sans', Arial, sans-serif" dominant-baseline="central"  stroke="#2a2a2a" stroke-width="0.12">Max</text>
<text transform="translate(217.2,26.2) scale(0.88,1)" font-size="5.6" text-anchor="middle" fill="#2a2a2a" font-weight="normal" font-family="'Liberation Sans', Arial, sans-serif" dominant-baseline="central"  stroke="#2a2a2a" stroke-width="0.12">1.000e+00</text>
<text transform="translate(249.3,26.2) scale(0.88,1)" font-size="5.6" text-anchor="middle" fill="#2a2a2a" font-weight="normal" font-family="'Liberation Sans', Arial, sans-serif" dominant-baseline="central"  stroke="#2a2a2a" stroke-width="0.12">0.000e+00</text>
<text transform="translate(170.9,34.28) scale(0.88,1)" font-size="5.6" text-anchor="start" fill="#2a2a2a" font-weight="normal" font-family="'Liberation Sans', Arial, sans-serif" dominant-baseline="central"  stroke="#2a2a2a" stroke-width="0.12">Min</text>
<text transform="translate(217.2,34.28) scale(0.88,1)" font-size="5.6" text-anchor="middle" fill="#2a2a2a" font-weight="normal" font-family="'Liberation Sans', Arial, sans-serif" dominant-baseline="central"  stroke="#2a2a2a" stroke-width="0.12">-8.116e+00</text>
<text transform="translate(249.3,34.28) scale(0.88,1)" font-size="5.6" text-anchor="middle" fill="#2a2a2a" font-weight="normal" font-family="'Liberation Sans', Arial, sans-serif" dominant-baseline="central"  stroke="#2a2a2a" stroke-width="0.12">2.128e-04</text>
<text transform="translate(170.9,42.36) scale(0.88,1)" font-size="5.6" text-anchor="start" fill="#2a2a2a" font-weight="normal" font-family="'Liberation Sans', Arial, sans-serif" dominant-baseline="central"  stroke="#2a2a2a" stroke-width="0.12">Peak to Peak</text>
<text transform="translate(217.2,42.36) scale(0.88,1)" font-size="5.6" text-anchor="middle" fill="#2a2a2a" font-weight="normal" font-family="'Liberation Sans', Arial, sans-serif" dominant-baseline="central"  stroke="#2a2a2a" stroke-width="0.12">9.116e+00</text>
<text transform="translate(170.9,50.44) scale(0.88,1)" font-size="5.6" text-anchor="start" fill="#2a2a2a" font-weight="normal" font-family="'Liberation Sans', Arial, sans-serif" dominant-baseline="central"  stroke="#2a2a2a" stroke-width="0.12">Mean</text>
<text transform="translate(217.2,50.44) scale(0.88,1)" font-size="5.6" text-anchor="middle" fill="#2a2a2a" font-weight="normal" font-family="'Liberation Sans', Arial, sans-serif" dominant-baseline="central"  stroke="#2a2a2a" stroke-width="0.12">-1.053e+00</text>
<text transform="translate(170.9,58.52) scale(0.88,1)" font-size="5.6" text-anchor="start" fill="#2a2a2a" font-weight="normal" font-family="'Liberation Sans', Arial, sans-serif" dominant-baseline="central"  stroke="#2a2a2a" stroke-width="0.12">Median</text>
<text transform="translate(217.2,58.52) scale(0.88,1)" font-size="5.6" text-anchor="middle" fill="#2a2a2a" font-weight="normal" font-family="'Liberation Sans', Arial, sans-serif" dominant-baseline="central"  stroke="#2a2a2a" stroke-width="0.12">-9.210e-07</text>
<text transform="translate(170.9,66.6) scale(0.88,1)" font-size="5.6" text-anchor="start" fill="#2a2a2a" font-weight="normal" font-family="'Liberation Sans', Arial, sans-serif" dominant-baseline="central"  stroke="#2a2a2a" stroke-width="0.12">RMS</text>
<text transform="translate(217.2,66.6) scale(0.88,1)" font-size="5.6" text-anchor="middle" fill="#2a2a2a" font-weight="normal" font-family="'Liberation Sans', Arial, sans-serif" dominant-baseline="central"  stroke="#2a2a2a" stroke-width="0.12">2.558e+00</text>
<rect x="448.4" y="-3" width="95.8" height="72" fill="#fff" stroke="#b0b0b0" stroke-width="0.8" />
<text transform="translate(450.6,6.2) scale(0.88,1)" font-size="3.6" text-anchor="start" fill="#333" font-weight="normal" font-family="'Liberation Sans', Arial, sans-serif" dominant-baseline="central"  stroke="#333" stroke-width="0.12">⇕</text>
<text transform="translate(453.4,6.2) scale(0.88,1)" font-size="3.4" text-anchor="start" fill="#222" font-weight="normal" font-family="'Liberation Sans', Arial, sans-serif" dominant-baseline="central"  stroke="#222" stroke-width="0.12">▼</text>
<text x="458.2" y="6.2" font-size="5.0" text-anchor="start" fill="#1a1a1a" font-weight="bold" font-family="'Liberation Sans', Arial, sans-serif" dominant-baseline="central"  stroke="#1a1a1a" stroke-width="0.12">Signal Statistics</text>
<text transform="translate(535.9,6.2) scale(0.88,1)" font-size="3.6" text-anchor="start" fill="#333" font-weight="normal" font-family="'Liberation Sans', Arial, sans-serif" dominant-baseline="central"  stroke="#333" stroke-width="0.12">▸</text>
<text transform="translate(539,6.2) scale(0.88,1)" font-size="3.8" text-anchor="start" fill="#333" font-weight="normal" font-family="'Liberation Sans', Arial, sans-serif" dominant-baseline="central"  stroke="#333" stroke-width="0.12">✕</text>
<text transform="translate(497.5,16) scale(0.88,1)" font-size="5.49" text-anchor="middle" fill="#2a2a2a" font-weight="normal" font-family="'Liberation Sans', Arial, sans-serif" dominant-baseline="central"  stroke="#2a2a2a" stroke-width="0.12">Value</text>
<text transform="translate(528.2,16) scale(0.88,1)" font-size="5.49" text-anchor="middle" fill="#2a2a2a" font-weight="normal" font-family="'Liberation Sans', Arial, sans-serif" dominant-baseline="central"  stroke="#2a2a2a" stroke-width="0.12">Time</text>
<text transform="translate(449.9,24.1) scale(0.88,1)" font-size="5.49" text-anchor="start" fill="#2a2a2a" font-weight="normal" font-family="'Liberation Sans', Arial, sans-serif" dominant-baseline="central"  stroke="#2a2a2a" stroke-width="0.12">Max</text>
<text transform="translate(497.5,24.1) scale(0.88,1)" font-size="5.49" text-anchor="middle" fill="#2a2a2a" font-weight="normal" font-family="'Liberation Sans', Arial, sans-serif" dominant-baseline="central"  stroke="#2a2a2a" stroke-width="0.12">1.057e+01</text>
<text transform="translate(528.2,24.1) scale(0.88,1)" font-size="5.49" text-anchor="middle" fill="#2a2a2a" font-weight="normal" font-family="'Liberation Sans', Arial, sans-serif" dominant-baseline="central"  stroke="#2a2a2a" stroke-width="0.12">0.151</text>
<text transform="translate(449.9,31.9) scale(0.88,1)" font-size="5.49" text-anchor="start" fill="#2a2a2a" font-weight="normal" font-family="'Liberation Sans', Arial, sans-serif" dominant-baseline="central"  stroke="#2a2a2a" stroke-width="0.12">Min</text>
<text transform="translate(497.5,31.9) scale(0.88,1)" font-size="5.49" text-anchor="middle" fill="#2a2a2a" font-weight="normal" font-family="'Liberation Sans', Arial, sans-serif" dominant-baseline="central"  stroke="#2a2a2a" stroke-width="0.12">-9.200e+02</text>
<text transform="translate(528.2,31.9) scale(0.88,1)" font-size="5.49" text-anchor="middle" fill="#2a2a2a" font-weight="normal" font-family="'Liberation Sans', Arial, sans-serif" dominant-baseline="central"  stroke="#2a2a2a" stroke-width="0.12">0.000e+00</text>
<text transform="translate(449.9,39.7) scale(0.88,1)" font-size="5.49" text-anchor="start" fill="#2a2a2a" font-weight="normal" font-family="'Liberation Sans', Arial, sans-serif" dominant-baseline="central"  stroke="#2a2a2a" stroke-width="0.12">Peak to Peak</text>
<text transform="translate(497.5,39.7) scale(0.88,1)" font-size="5.49" text-anchor="middle" fill="#2a2a2a" font-weight="normal" font-family="'Liberation Sans', Arial, sans-serif" dominant-baseline="central"  stroke="#2a2a2a" stroke-width="0.12">9.306e+02</text>
<text transform="translate(449.9,47.5) scale(0.88,1)" font-size="5.49" text-anchor="start" fill="#2a2a2a" font-weight="normal" font-family="'Liberation Sans', Arial, sans-serif" dominant-baseline="central"  stroke="#2a2a2a" stroke-width="0.12">Mean</text>
<text transform="translate(497.5,47.5) scale(0.88,1)" font-size="5.49" text-anchor="middle" fill="#2a2a2a" font-weight="normal" font-family="'Liberation Sans', Arial, sans-serif" dominant-baseline="central"  stroke="#2a2a2a" stroke-width="0.12">-2.690e+01</text>
<text transform="translate(449.9,55.3) scale(0.88,1)" font-size="5.49" text-anchor="start" fill="#2a2a2a" font-weight="normal" font-family="'Liberation Sans', Arial, sans-serif" dominant-baseline="central"  stroke="#2a2a2a" stroke-width="0.12">Median</text>
<text transform="translate(497.5,55.3) scale(0.88,1)" font-size="5.49" text-anchor="middle" fill="#2a2a2a" font-weight="normal" font-family="'Liberation Sans', Arial, sans-serif" dominant-baseline="central"  stroke="#2a2a2a" stroke-width="0.12">-1.372e-01</text>
<text transform="translate(449.9,63.1) scale(0.88,1)" font-size="5.49" text-anchor="start" fill="#2a2a2a" font-weight="normal" font-family="'Liberation Sans', Arial, sans-serif" dominant-baseline="central"  stroke="#2a2a2a" stroke-width="0.12">RMS</text>
<text transform="translate(497.5,63.1) scale(0.88,1)" font-size="5.49" text-anchor="middle" fill="#2a2a2a" font-weight="normal" font-family="'Liberation Sans', Arial, sans-serif" dominant-baseline="central"  stroke="#2a2a2a" stroke-width="0.12">1.231e+02</text>
<rect x="168" y="191.5" width="98" height="70.5" fill="#fff" stroke="#b0b0b0" stroke-width="0.8" />
<text transform="translate(170.2,194.2) scale(0.88,1)" font-size="3.6" text-anchor="start" fill="#333" font-weight="normal" font-family="'Liberation Sans', Arial, sans-serif" dominant-baseline="central"  stroke="#333" stroke-width="0.12">⇕</text>
<text transform="translate(173,194.2) scale(0.88,1)" font-size="3.4" text-anchor="start" fill="#222" font-weight="normal" font-family="'Liberation Sans', Arial, sans-serif" dominant-baseline="central"  stroke="#222" stroke-width="0.12">▼</text>
<text x="177.8" y="194.2" font-size="5.0" text-anchor="start" fill="#1a1a1a" font-weight="bold" font-family="'Liberation Sans', Arial, sans-serif" dominant-baseline="central"  stroke="#1a1a1a" stroke-width="0.12">Signal Statistics</text>
<text transform="translate(255.2,194.2) scale(0.88,1)" font-size="3.6" text-anchor="start" fill="#333" font-weight="normal" font-family="'Liberation Sans', Arial, sans-serif" dominant-baseline="central"  stroke="#333" stroke-width="0.12">▸</text>
<text transform="translate(258.3,194.2) scale(0.88,1)" font-size="3.8" text-anchor="start" fill="#333" font-weight="normal" font-family="'Liberation Sans', Arial, sans-serif" dominant-baseline="central"  stroke="#333" stroke-width="0.12">✕</text>
<text transform="translate(216,204.4) scale(0.88,1)" font-size="5.6" text-anchor="middle" fill="#2a2a2a" font-weight="normal" font-family="'Liberation Sans', Arial, sans-serif" dominant-baseline="central"  stroke="#2a2a2a" stroke-width="0.12">Value</text>
<text transform="translate(248,204.4) scale(0.88,1)" font-size="5.6" text-anchor="middle" fill="#2a2a2a" font-weight="normal" font-family="'Liberation Sans', Arial, sans-serif" dominant-baseline="central"  stroke="#2a2a2a" stroke-width="0.12">Time</text>
<text transform="translate(169.8,213) scale(0.88,1)" font-size="5.6" text-anchor="start" fill="#2a2a2a" font-weight="normal" font-family="'Liberation Sans', Arial, sans-serif" dominant-baseline="central"  stroke="#2a2a2a" stroke-width="0.12">Max</text>
<text transform="translate(216,213) scale(0.88,1)" font-size="5.6" text-anchor="middle" fill="#2a2a2a" font-weight="normal" font-family="'Liberation Sans', Arial, sans-serif" dominant-baseline="central"  stroke="#2a2a2a" stroke-width="0.12">5.874e-04</text>
<text transform="translate(248,213) scale(0.88,1)" font-size="5.6" text-anchor="middle" fill="#2a2a2a" font-weight="normal" font-family="'Liberation Sans', Arial, sans-serif" dominant-baseline="central"  stroke="#2a2a2a" stroke-width="0.12">2.554</text>
<text transform="translate(169.8,221.45) scale(0.88,1)" font-size="5.6" text-anchor="start" fill="#2a2a2a" font-weight="normal" font-family="'Liberation Sans', Arial, sans-serif" dominant-baseline="central"  stroke="#2a2a2a" stroke-width="0.12">Min</text>
<text transform="translate(216,221.45) scale(0.88,1)" font-size="5.6" text-anchor="middle" fill="#2a2a2a" font-weight="normal" font-family="'Liberation Sans', Arial, sans-serif" dominant-baseline="central"  stroke="#2a2a2a" stroke-width="0.12">-1.069e+00</text>
<text transform="translate(248,221.45) scale(0.88,1)" font-size="5.6" text-anchor="middle" fill="#2a2a2a" font-weight="normal" font-family="'Liberation Sans', Arial, sans-serif" dominant-baseline="central"  stroke="#2a2a2a" stroke-width="0.12">0.151</text>
<text transform="translate(169.8,229.9) scale(0.88,1)" font-size="5.6" text-anchor="start" fill="#2a2a2a" font-weight="normal" font-family="'Liberation Sans', Arial, sans-serif" dominant-baseline="central"  stroke="#2a2a2a" stroke-width="0.12">Peak to Peak</text>
<text transform="translate(216,229.9) scale(0.88,1)" font-size="5.6" text-anchor="middle" fill="#2a2a2a" font-weight="normal" font-family="'Liberation Sans', Arial, sans-serif" dominant-baseline="central"  stroke="#2a2a2a" stroke-width="0.12">1.069e+00</text>
<text transform="translate(169.8,238.35) scale(0.88,1)" font-size="5.6" text-anchor="start" fill="#2a2a2a" font-weight="normal" font-family="'Liberation Sans', Arial, sans-serif" dominant-baseline="central"  stroke="#2a2a2a" stroke-width="0.12">Mean</text>
<text transform="translate(216,238.35) scale(0.88,1)" font-size="5.6" text-anchor="middle" fill="#2a2a2a" font-weight="normal" font-family="'Liberation Sans', Arial, sans-serif" dominant-baseline="central"  stroke="#2a2a2a" stroke-width="0.12">-2.978e-01</text>
<text transform="translate(169.8,246.8) scale(0.88,1)" font-size="5.6" text-anchor="start" fill="#2a2a2a" font-weight="normal" font-family="'Liberation Sans', Arial, sans-serif" dominant-baseline="central"  stroke="#2a2a2a" stroke-width="0.12">Median</text>
<text transform="translate(216,246.8) scale(0.88,1)" font-size="5.6" text-anchor="middle" fill="#2a2a2a" font-weight="normal" font-family="'Liberation Sans', Arial, sans-serif" dominant-baseline="central"  stroke="#2a2a2a" stroke-width="0.12">-6.684e-08</text>
<text transform="translate(169.8,255.25) scale(0.88,1)" font-size="5.6" text-anchor="start" fill="#2a2a2a" font-weight="normal" font-family="'Liberation Sans', Arial, sans-serif" dominant-baseline="central"  stroke="#2a2a2a" stroke-width="0.12">RMS</text>
<text transform="translate(216,255.25) scale(0.88,1)" font-size="5.6" text-anchor="middle" fill="#2a2a2a" font-weight="normal" font-family="'Liberation Sans', Arial, sans-serif" dominant-baseline="central"  stroke="#2a2a2a" stroke-width="0.12">5.521e-01</text>
<rect x="448.1" y="191.5" width="93.7" height="74" fill="#fff" stroke="#b0b0b0" stroke-width="0.8" />
<text transform="translate(450.3,198.8) scale(0.88,1)" font-size="3.6" text-anchor="start" fill="#333" font-weight="normal" font-family="'Liberation Sans', Arial, sans-serif" dominant-baseline="central"  stroke="#333" stroke-width="0.12">⇕</text>
<text transform="translate(453.1,198.8) scale(0.88,1)" font-size="3.4" text-anchor="start" fill="#222" font-weight="normal" font-family="'Liberation Sans', Arial, sans-serif" dominant-baseline="central"  stroke="#222" stroke-width="0.12">▼</text>
<text x="457.9" y="198.8" font-size="5.0" text-anchor="start" fill="#1a1a1a" font-weight="bold" font-family="'Liberation Sans', Arial, sans-serif" dominant-baseline="central"  stroke="#1a1a1a" stroke-width="0.12">Signal Statistics</text>
<text transform="translate(533.5,198.8) scale(0.88,1)" font-size="3.6" text-anchor="start" fill="#333" font-weight="normal" font-family="'Liberation Sans', Arial, sans-serif" dominant-baseline="central"  stroke="#333" stroke-width="0.12">▸</text>
<text transform="translate(536.6,198.8) scale(0.88,1)" font-size="3.8" text-anchor="start" fill="#333" font-weight="normal" font-family="'Liberation Sans', Arial, sans-serif" dominant-baseline="central"  stroke="#333" stroke-width="0.12">✕</text>
<text transform="translate(495,209.3) scale(0.88,1)" font-size="5.6" text-anchor="middle" fill="#2a2a2a" font-weight="normal" font-family="'Liberation Sans', Arial, sans-serif" dominant-baseline="central"  stroke="#2a2a2a" stroke-width="0.12">Value</text>
<text transform="translate(527.2,209.3) scale(0.88,1)" font-size="5.6" text-anchor="middle" fill="#2a2a2a" font-weight="normal" font-family="'Liberation Sans', Arial, sans-serif" dominant-baseline="central"  stroke="#2a2a2a" stroke-width="0.12">Time</text>
<text transform="translate(449.5,217.1) scale(0.88,1)" font-size="5.6" text-anchor="start" fill="#2a2a2a" font-weight="normal" font-family="'Liberation Sans', Arial, sans-serif" dominant-baseline="central"  stroke="#2a2a2a" stroke-width="0.12">Max</text>
<text transform="translate(495,217.1) scale(0.88,1)" font-size="5.6" text-anchor="middle" fill="#2a2a2a" font-weight="normal" font-family="'Liberation Sans', Arial, sans-serif" dominant-baseline="central"  stroke="#2a2a2a" stroke-width="0.12">9.200e+00</text>
<text transform="translate(527.2,217.1) scale(0.88,1)" font-size="5.6" text-anchor="middle" fill="#2a2a2a" font-weight="normal" font-family="'Liberation Sans', Arial, sans-serif" dominant-baseline="central"  stroke="#2a2a2a" stroke-width="0.12">0.000e+00</text>
<text transform="translate(449.5,225.52) scale(0.88,1)" font-size="5.6" text-anchor="start" fill="#2a2a2a" font-weight="normal" font-family="'Liberation Sans', Arial, sans-serif" dominant-baseline="central"  stroke="#2a2a2a" stroke-width="0.12">Min</text>
<text transform="translate(495,225.52) scale(0.88,1)" font-size="5.6" text-anchor="middle" fill="#2a2a2a" font-weight="normal" font-family="'Liberation Sans', Arial, sans-serif" dominant-baseline="central"  stroke="#2a2a2a" stroke-width="0.12">-1.670e-01</text>
<text transform="translate(527.2,225.52) scale(0.88,1)" font-size="5.6" text-anchor="middle" fill="#2a2a2a" font-weight="normal" font-family="'Liberation Sans', Arial, sans-serif" dominant-baseline="central"  stroke="#2a2a2a" stroke-width="0.12">0.151</text>
<text transform="translate(449.5,233.94) scale(0.88,1)" font-size="5.6" text-anchor="start" fill="#2a2a2a" font-weight="normal" font-family="'Liberation Sans', Arial, sans-serif" dominant-baseline="central"  stroke="#2a2a2a" stroke-width="0.12">Peak to Peak</text>
<text transform="translate(495,233.94) scale(0.88,1)" font-size="5.6" text-anchor="middle" fill="#2a2a2a" font-weight="normal" font-family="'Liberation Sans', Arial, sans-serif" dominant-baseline="central"  stroke="#2a2a2a" stroke-width="0.12">9.307e+00</text>
<text transform="translate(449.5,242.36) scale(0.88,1)" font-size="5.6" text-anchor="start" fill="#2a2a2a" font-weight="normal" font-family="'Liberation Sans', Arial, sans-serif" dominant-baseline="central"  stroke="#2a2a2a" stroke-width="0.12">Mean</text>
<text transform="translate(495,242.36) scale(0.88,1)" font-size="5.6" text-anchor="middle" fill="#2a2a2a" font-weight="normal" font-family="'Liberation Sans', Arial, sans-serif" dominant-baseline="central"  stroke="#2a2a2a" stroke-width="0.12">2.640e-01</text>
<text transform="translate(449.5,250.78) scale(0.88,1)" font-size="5.6" text-anchor="start" fill="#2a2a2a" font-weight="normal" font-family="'Liberation Sans', Arial, sans-serif" dominant-baseline="central"  stroke="#2a2a2a" stroke-width="0.12">Median</text>
<text transform="translate(495,250.78) scale(0.88,1)" font-size="5.6" text-anchor="middle" fill="#2a2a2a" font-weight="normal" font-family="'Liberation Sans', Arial, sans-serif" dominant-baseline="central"  stroke="#2a2a2a" stroke-width="0.12">8.719e-04</text>
<text transform="translate(449.5,259.2) scale(0.88,1)" font-size="5.6" text-anchor="start" fill="#2a2a2a" font-weight="normal" font-family="'Liberation Sans', Arial, sans-serif" dominant-baseline="central"  stroke="#2a2a2a" stroke-width="0.12">RMS</text>
<text transform="translate(495,259.2) scale(0.88,1)" font-size="5.6" text-anchor="middle" fill="#2a2a2a" font-weight="normal" font-family="'Liberation Sans', Arial, sans-serif" dominant-baseline="central"  stroke="#2a2a2a" stroke-width="0.12">1.231e+00</text>
<rect x="169.3" y="76.3" width="96.1" height="84.2" fill="#fff" stroke="#b0b0b0" stroke-width="0.8" />
<text transform="translate(171.5,80) scale(0.88,1)" font-size="3.6" text-anchor="start" fill="#333" font-weight="normal" font-family="'Liberation Sans', Arial, sans-serif" dominant-baseline="central"  stroke="#333" stroke-width="0.12">⇕</text>
<text transform="translate(174.3,80) scale(0.88,1)" font-size="3.4" text-anchor="start" fill="#222" font-weight="normal" font-family="'Liberation Sans', Arial, sans-serif" dominant-baseline="central"  stroke="#222" stroke-width="0.12">▼</text>
<text x="179.1" y="80" font-size="5.0" text-anchor="start" fill="#1a1a1a" font-weight="bold" font-family="'Liberation Sans', Arial, sans-serif" dominant-baseline="central"  stroke="#1a1a1a" stroke-width="0.12">Cursor Measurements</text>
<text transform="translate(257.1,80) scale(0.88,1)" font-size="3.6" text-anchor="start" fill="#333" font-weight="normal" font-family="'Liberation Sans', Arial, sans-serif" dominant-baseline="central"  stroke="#333" stroke-width="0.12">▸</text>
<text transform="translate(260.2,80) scale(0.88,1)" font-size="3.8" text-anchor="start" fill="#333" font-weight="normal" font-family="'Liberation Sans', Arial, sans-serif" dominant-baseline="central"  stroke="#333" stroke-width="0.12">✕</text>
<text transform="translate(171.1,88.2) scale(0.88,1)" font-size="3.6" text-anchor="start" fill="#111" font-weight="normal" font-family="'Liberation Sans', Arial, sans-serif" dominant-baseline="central"  stroke="#111" stroke-width="0.12">▶</text>
<text transform="translate(175.3,88.2) scale(0.88,1)" font-size="5.890000000000001" text-anchor="start" fill="#2a2a2a" font-weight="normal" font-family="'Liberation Sans', Arial, sans-serif" dominant-baseline="central"  stroke="#2a2a2a" stroke-width="0.12">Settings</text>
<text transform="translate(170.9,96.6) scale(0.88,1)" font-size="3.8" text-anchor="start" fill="#111" font-weight="normal" font-family="'Liberation Sans', Arial, sans-serif" dominant-baseline="central"  stroke="#111" stroke-width="0.12">▼</text>
<text transform="translate(174.9,96.6) scale(0.88,1)" font-size="5.890000000000001" text-anchor="start" fill="#2a2a2a" font-weight="normal" font-family="'Liberation Sans', Arial, sans-serif" dominant-baseline="central"  stroke="#2a2a2a" stroke-width="0.12">Measurements</text>
<rect x="171" y="100.8" width="92.9" height="58.6" fill="#fff" stroke="#c4c4c4" stroke-width="0.7" />
<text transform="translate(198.4,105.3) scale(0.88,1)" font-size="5.49" text-anchor="middle" fill="#2a2a2a" font-weight="normal" font-family="'Liberation Sans', Arial, sans-serif" dominant-baseline="central"  stroke="#2a2a2a" stroke-width="0.12">Time</text>
<text transform="translate(243.2,105.3) scale(0.88,1)" font-size="5.49" text-anchor="middle" fill="#2a2a2a" font-weight="normal" font-family="'Liberation Sans', Arial, sans-serif" dominant-baseline="central"  stroke="#2a2a2a" stroke-width="0.12">Value</text>
<rect x="180.3" y="109.5" width="36.2" height="7.8" fill="#e6e6e6" stroke="#c8c8c8" stroke-width="0.6" />
<text transform="translate(173.3,113.4) scale(0.88,1)" font-size="5.49" text-anchor="start" fill="#2a2a2a" font-weight="normal" font-family="'Liberation Sans', Arial, sans-serif" dominant-baseline="central"  stroke="#2a2a2a" stroke-width="0.12">1 :</text>
<text transform="translate(198.4,113.4) scale(0.88,1)" font-size="5.49" text-anchor="middle" fill="#333" font-weight="normal" font-family="'Liberation Sans', Arial, sans-serif" dominant-baseline="central"  stroke="#333" stroke-width="0.12">2.518</text>
<text transform="translate(254.4,113.4) scale(0.88,1)" font-size="5.49" text-anchor="end" fill="#2a2a2a" font-weight="normal" font-family="'Liberation Sans', Arial, sans-serif" dominant-baseline="central"  stroke="#2a2a2a" stroke-width="0.12">8.848e-01</text>
<rect x="180.3" y="117.9" width="36.2" height="7.3" fill="#e6e6e6" stroke="#c8c8c8" stroke-width="0.6" />
<text transform="translate(173.3,121.4) scale(0.88,1)" font-size="5.49" text-anchor="start" fill="#2a2a2a" font-weight="normal" font-family="'Liberation Sans', Arial, sans-serif" dominant-baseline="central"  stroke="#2a2a2a" stroke-width="0.12">2 :</text>
<text transform="translate(198.4,121.4) scale(0.88,1)" font-size="5.49" text-anchor="middle" fill="#333" font-weight="normal" font-family="'Liberation Sans', Arial, sans-serif" dominant-baseline="central"  stroke="#333" stroke-width="0.12">22.500</text>
<text transform="translate(254.4,121.4) scale(0.88,1)" font-size="5.49" text-anchor="end" fill="#2a2a2a" font-weight="normal" font-family="'Liberation Sans', Arial, sans-serif" dominant-baseline="central"  stroke="#2a2a2a" stroke-width="0.12">-8.933e-07</text>
<text transform="translate(173.3,129.8) scale(0.88,1)" font-size="5.49" text-anchor="start" fill="#2a2a2a" font-weight="normal" font-family="'Liberation Sans', Arial, sans-serif" dominant-baseline="central"  stroke="#2a2a2a" stroke-width="0.12">ΔT</text>
<text transform="translate(198.4,129.8) scale(0.88,1)" font-size="5.49" text-anchor="middle" fill="#2a2a2a" font-weight="normal" font-family="'Liberation Sans', Arial, sans-serif" dominant-baseline="central"  stroke="#2a2a2a" stroke-width="0.12">19.982 s</text>
<text transform="translate(219.6,129.8) scale(0.88,1)" font-size="5.49" text-anchor="start" fill="#2a2a2a" font-weight="normal" font-family="'Liberation Sans', Arial, sans-serif" dominant-baseline="central"  stroke="#2a2a2a" stroke-width="0.12">ΔY</text>
<text transform="translate(254.4,129.8) scale(0.88,1)" font-size="5.49" text-anchor="end" fill="#2a2a2a" font-weight="normal" font-family="'Liberation Sans', Arial, sans-serif" dominant-baseline="central"  stroke="#2a2a2a" stroke-width="0.12">8.848e-01</text>
<line x1="176" y1="138.5" x2="259.3" y2="138.5" stroke="#7a7a7a" stroke-width="1.3" />
<text transform="translate(194.4,144.2) scale(0.88,1)" font-size="5.49" text-anchor="middle" fill="#2a2a2a" font-weight="normal" font-family="'Liberation Sans', Arial, sans-serif" dominant-baseline="central"  stroke="#2a2a2a" stroke-width="0.12">1 / ΔT</text>
<text transform="translate(239.3,144.2) scale(0.88,1)" font-size="5.49" text-anchor="middle" fill="#2a2a2a" font-weight="normal" font-family="'Liberation Sans', Arial, sans-serif" dominant-baseline="central"  stroke="#2a2a2a" stroke-width="0.12">50.046 mHz</text>
<text transform="translate(194.4,152.2) scale(0.88,1)" font-size="5.49" text-anchor="middle" fill="#2a2a2a" font-weight="normal" font-family="'Liberation Sans', Arial, sans-serif" dominant-baseline="central"  stroke="#2a2a2a" stroke-width="0.12">ΔY / ΔT</text>
<text transform="translate(239.3,152.2) scale(0.88,1)" font-size="5.49" text-anchor="middle" fill="#2a2a2a" font-weight="normal" font-family="'Liberation Sans', Arial, sans-serif" dominant-baseline="central"  stroke="#2a2a2a" stroke-width="0.12">44.281 (/ks)</text>
<rect x="163.95" y="79.55" width="1.5" height="1.5" fill="#1a1a1a"/>
<rect x="163.95" y="82.9" width="1.5" height="1.5" fill="#1a1a1a"/>
<rect x="163.95" y="86.25" width="1.5" height="1.5" fill="#1a1a1a"/>
<rect x="163.95" y="89.6" width="1.5" height="1.5" fill="#1a1a1a"/>
<rect x="163.95" y="92.95" width="1.5" height="1.5" fill="#1a1a1a"/>
<rect x="448.4" y="72.6" width="96" height="81.4" fill="#fff" stroke="#b0b0b0" stroke-width="0.8" />
<text transform="translate(450.6,76.4) scale(0.88,1)" font-size="3.6" text-anchor="start" fill="#333" font-weight="normal" font-family="'Liberation Sans', Arial, sans-serif" dominant-baseline="central"  stroke="#333" stroke-width="0.12">⇕</text>
<text transform="translate(453.4,76.4) scale(0.88,1)" font-size="3.4" text-anchor="start" fill="#222" font-weight="normal" font-family="'Liberation Sans', Arial, sans-serif" dominant-baseline="central"  stroke="#222" stroke-width="0.12">▼</text>
<text x="458.2" y="76.4" font-size="5.0" text-anchor="start" fill="#1a1a1a" font-weight="bold" font-family="'Liberation Sans', Arial, sans-serif" dominant-baseline="central"  stroke="#1a1a1a" stroke-width="0.12">Cursor Measurements</text>
<text transform="translate(536.1,76.4) scale(0.88,1)" font-size="3.6" text-anchor="start" fill="#333" font-weight="normal" font-family="'Liberation Sans', Arial, sans-serif" dominant-baseline="central"  stroke="#333" stroke-width="0.12">▸</text>
<text transform="translate(539.2,76.4) scale(0.88,1)" font-size="3.8" text-anchor="start" fill="#333" font-weight="normal" font-family="'Liberation Sans', Arial, sans-serif" dominant-baseline="central"  stroke="#333" stroke-width="0.12">✕</text>
<text transform="translate(450.2,84) scale(0.88,1)" font-size="3.6" text-anchor="start" fill="#111" font-weight="normal" font-family="'Liberation Sans', Arial, sans-serif" dominant-baseline="central"  stroke="#111" stroke-width="0.12">▶</text>
<text transform="translate(454.4,84) scale(0.88,1)" font-size="5.890000000000001" text-anchor="start" fill="#2a2a2a" font-weight="normal" font-family="'Liberation Sans', Arial, sans-serif" dominant-baseline="central"  stroke="#2a2a2a" stroke-width="0.12">Settings</text>
<text transform="translate(450,91.9) scale(0.88,1)" font-size="3.8" text-anchor="start" fill="#111" font-weight="normal" font-family="'Liberation Sans', Arial, sans-serif" dominant-baseline="central"  stroke="#111" stroke-width="0.12">▼</text>
<text transform="translate(454,91.9) scale(0.88,1)" font-size="5.890000000000001" text-anchor="start" fill="#2a2a2a" font-weight="normal" font-family="'Liberation Sans', Arial, sans-serif" dominant-baseline="central"  stroke="#2a2a2a" stroke-width="0.12">Measurements</text>
<rect x="450.4" y="96.5" width="92.6" height="55.9" fill="#fff" stroke="#c4c4c4" stroke-width="0.7" />
<text transform="translate(477.6,100.5) scale(0.88,1)" font-size="5.49" text-anchor="middle" fill="#2a2a2a" font-weight="normal" font-family="'Liberation Sans', Arial, sans-serif" dominant-baseline="central"  stroke="#2a2a2a" stroke-width="0.12">Time</text>
<text transform="translate(522.5,100.5) scale(0.88,1)" font-size="5.49" text-anchor="middle" fill="#2a2a2a" font-weight="normal" font-family="'Liberation Sans', Arial, sans-serif" dominant-baseline="central"  stroke="#2a2a2a" stroke-width="0.12">Value</text>
<rect x="459.6" y="104.4" width="36" height="7.6" fill="#e6e6e6" stroke="#c8c8c8" stroke-width="0.6" />
<text transform="translate(452.7,108.4) scale(0.88,1)" font-size="5.49" text-anchor="start" fill="#2a2a2a" font-weight="normal" font-family="'Liberation Sans', Arial, sans-serif" dominant-baseline="central"  stroke="#2a2a2a" stroke-width="0.12">1 :</text>
<text transform="translate(477.6,108.4) scale(0.88,1)" font-size="5.49" text-anchor="middle" fill="#333" font-weight="normal" font-family="'Liberation Sans', Arial, sans-serif" dominant-baseline="central"  stroke="#333" stroke-width="0.12">2.538</text>
<text transform="translate(534.4,108.4) scale(0.88,1)" font-size="5.49" text-anchor="end" fill="#2a2a2a" font-weight="normal" font-family="'Liberation Sans', Arial, sans-serif" dominant-baseline="central"  stroke="#2a2a2a" stroke-width="0.12">-1.946e+00</text>
<rect x="459.6" y="112.4" width="36" height="7.2" fill="#e6e6e6" stroke="#c8c8c8" stroke-width="0.6" />
<text transform="translate(452.7,116) scale(0.88,1)" font-size="5.49" text-anchor="start" fill="#2a2a2a" font-weight="normal" font-family="'Liberation Sans', Arial, sans-serif" dominant-baseline="central"  stroke="#2a2a2a" stroke-width="0.12">2 :</text>
<text transform="translate(477.6,116) scale(0.88,1)" font-size="5.49" text-anchor="middle" fill="#333" font-weight="normal" font-family="'Liberation Sans', Arial, sans-serif" dominant-baseline="central"  stroke="#333" stroke-width="0.12">22.500</text>
<text transform="translate(534.4,116) scale(0.88,1)" font-size="5.49" text-anchor="end" fill="#2a2a2a" font-weight="normal" font-family="'Liberation Sans', Arial, sans-serif" dominant-baseline="central"  stroke="#2a2a2a" stroke-width="0.12">-4.583e+00</text>
<text transform="translate(452.7,124) scale(0.88,1)" font-size="5.49" text-anchor="start" fill="#2a2a2a" font-weight="normal" font-family="'Liberation Sans', Arial, sans-serif" dominant-baseline="central"  stroke="#2a2a2a" stroke-width="0.12">ΔT</text>
<text transform="translate(477.6,124) scale(0.88,1)" font-size="5.49" text-anchor="middle" fill="#2a2a2a" font-weight="normal" font-family="'Liberation Sans', Arial, sans-serif" dominant-baseline="central"  stroke="#2a2a2a" stroke-width="0.12">19.962 s</text>
<text transform="translate(498.5,124) scale(0.88,1)" font-size="5.49" text-anchor="start" fill="#2a2a2a" font-weight="normal" font-family="'Liberation Sans', Arial, sans-serif" dominant-baseline="central"  stroke="#2a2a2a" stroke-width="0.12">ΔY</text>
<text transform="translate(534.4,124) scale(0.88,1)" font-size="5.49" text-anchor="end" fill="#2a2a2a" font-weight="normal" font-family="'Liberation Sans', Arial, sans-serif" dominant-baseline="central"  stroke="#2a2a2a" stroke-width="0.12">2.557e+00</text>
<line x1="455" y1="132" x2="538" y2="132" stroke="#7a7a7a" stroke-width="1.3" />
<text transform="translate(473.6,137.6) scale(0.88,1)" font-size="5.49" text-anchor="middle" fill="#2a2a2a" font-weight="normal" font-family="'Liberation Sans', Arial, sans-serif" dominant-baseline="central"  stroke="#2a2a2a" stroke-width="0.12">1 / ΔT</text>
<text transform="translate(518.6,137.6) scale(0.88,1)" font-size="5.49" text-anchor="middle" fill="#2a2a2a" font-weight="normal" font-family="'Liberation Sans', Arial, sans-serif" dominant-baseline="central"  stroke="#2a2a2a" stroke-width="0.12">50.095 mHz</text>
<text transform="translate(473.6,145.6) scale(0.88,1)" font-size="5.49" text-anchor="middle" fill="#2a2a2a" font-weight="normal" font-family="'Liberation Sans', Arial, sans-serif" dominant-baseline="central"  stroke="#2a2a2a" stroke-width="0.12">ΔY / ΔT</text>
<text transform="translate(518.6,145.6) scale(0.88,1)" font-size="5.49" text-anchor="middle" fill="#2a2a2a" font-weight="normal" font-family="'Liberation Sans', Arial, sans-serif" dominant-baseline="central"  stroke="#2a2a2a" stroke-width="0.12">128.112 (/ks)</text>
<rect x="442.65" y="77.45" width="1.5" height="1.5" fill="#1a1a1a"/>
<rect x="442.65" y="80.72" width="1.5" height="1.5" fill="#1a1a1a"/>
<rect x="442.65" y="84" width="1.5" height="1.5" fill="#1a1a1a"/>
<rect x="442.65" y="87.28" width="1.5" height="1.5" fill="#1a1a1a"/>
<rect x="442.65" y="90.55" width="1.5" height="1.5" fill="#1a1a1a"/>
<rect x="168.4" y="265.6" width="97.6" height="88.4" fill="#fff" stroke="#b0b0b0" stroke-width="0.8" />
<text transform="translate(170.6,269.6) scale(0.88,1)" font-size="3.6" text-anchor="start" fill="#333" font-weight="normal" font-family="'Liberation Sans', Arial, sans-serif" dominant-baseline="central"  stroke="#333" stroke-width="0.12">⇕</text>
<text transform="translate(173.4,269.6) scale(0.88,1)" font-size="3.4" text-anchor="start" fill="#222" font-weight="normal" font-family="'Liberation Sans', Arial, sans-serif" dominant-baseline="central"  stroke="#222" stroke-width="0.12">▼</text>
<text x="178.2" y="269.6" font-size="5.0" text-anchor="start" fill="#1a1a1a" font-weight="bold" font-family="'Liberation Sans', Arial, sans-serif" dominant-baseline="central"  stroke="#1a1a1a" stroke-width="0.12">Cursor Measurements</text>
<text transform="translate(255.2,269.6) scale(0.88,1)" font-size="3.6" text-anchor="start" fill="#333" font-weight="normal" font-family="'Liberation Sans', Arial, sans-serif" dominant-baseline="central"  stroke="#333" stroke-width="0.12">▸</text>
<text transform="translate(258.3,269.6) scale(0.88,1)" font-size="3.8" text-anchor="start" fill="#333" font-weight="normal" font-family="'Liberation Sans', Arial, sans-serif" dominant-baseline="central"  stroke="#333" stroke-width="0.12">✕</text>
<text transform="translate(170.2,278.4) scale(0.88,1)" font-size="3.6" text-anchor="start" fill="#111" font-weight="normal" font-family="'Liberation Sans', Arial, sans-serif" dominant-baseline="central"  stroke="#111" stroke-width="0.12">▶</text>
<text transform="translate(174.4,278.4) scale(0.88,1)" font-size="5.890000000000001" text-anchor="start" fill="#2a2a2a" font-weight="normal" font-family="'Liberation Sans', Arial, sans-serif" dominant-baseline="central"  stroke="#2a2a2a" stroke-width="0.12">Settings</text>
<text transform="translate(170,286.8) scale(0.88,1)" font-size="3.8" text-anchor="start" fill="#111" font-weight="normal" font-family="'Liberation Sans', Arial, sans-serif" dominant-baseline="central"  stroke="#111" stroke-width="0.12">▼</text>
<text transform="translate(174,286.8) scale(0.88,1)" font-size="5.890000000000001" text-anchor="start" fill="#2a2a2a" font-weight="normal" font-family="'Liberation Sans', Arial, sans-serif" dominant-baseline="central"  stroke="#2a2a2a" stroke-width="0.12">Measurements</text>
<rect x="169.6" y="291.6" width="92.4" height="60.8" fill="#fff" stroke="#c4c4c4" stroke-width="0.7" />
<text transform="translate(197.6,296) scale(0.88,1)" font-size="5.49" text-anchor="middle" fill="#2a2a2a" font-weight="normal" font-family="'Liberation Sans', Arial, sans-serif" dominant-baseline="central"  stroke="#2a2a2a" stroke-width="0.12">Time</text>
<text transform="translate(241.5,296) scale(0.88,1)" font-size="5.49" text-anchor="middle" fill="#2a2a2a" font-weight="normal" font-family="'Liberation Sans', Arial, sans-serif" dominant-baseline="central"  stroke="#2a2a2a" stroke-width="0.12">Value</text>
<rect x="179.6" y="300.4" width="36" height="7.6" fill="#e6e6e6" stroke="#c8c8c8" stroke-width="0.6" />
<text transform="translate(171.9,304) scale(0.88,1)" font-size="5.49" text-anchor="start" fill="#2a2a2a" font-weight="normal" font-family="'Liberation Sans', Arial, sans-serif" dominant-baseline="central"  stroke="#2a2a2a" stroke-width="0.12">1 :</text>
<text transform="translate(197.6,304) scale(0.88,1)" font-size="5.49" text-anchor="middle" fill="#333" font-weight="normal" font-family="'Liberation Sans', Arial, sans-serif" dominant-baseline="central"  stroke="#333" stroke-width="0.12">2.494</text>
<text transform="translate(253,304) scale(0.88,1)" font-size="5.49" text-anchor="end" fill="#2a2a2a" font-weight="normal" font-family="'Liberation Sans', Arial, sans-serif" dominant-baseline="central"  stroke="#2a2a2a" stroke-width="0.12">-6.947e-04</text>
<rect x="179.6" y="308.4" width="36" height="7.6" fill="#e6e6e6" stroke="#c8c8c8" stroke-width="0.6" />
<text transform="translate(171.9,312.4) scale(0.88,1)" font-size="5.49" text-anchor="start" fill="#2a2a2a" font-weight="normal" font-family="'Liberation Sans', Arial, sans-serif" dominant-baseline="central"  stroke="#2a2a2a" stroke-width="0.12">2 :</text>
<text transform="translate(197.6,312.4) scale(0.88,1)" font-size="5.49" text-anchor="middle" fill="#333" font-weight="normal" font-family="'Liberation Sans', Arial, sans-serif" dominant-baseline="central"  stroke="#333" stroke-width="0.12">22.500</text>
<text transform="translate(253,312.4) scale(0.88,1)" font-size="5.49" text-anchor="end" fill="#2a2a2a" font-weight="normal" font-family="'Liberation Sans', Arial, sans-serif" dominant-baseline="central"  stroke="#2a2a2a" stroke-width="0.12">-6.633e-08</text>
<text transform="translate(171.9,321.4) scale(0.88,1)" font-size="5.49" text-anchor="start" fill="#2a2a2a" font-weight="normal" font-family="'Liberation Sans', Arial, sans-serif" dominant-baseline="central"  stroke="#2a2a2a" stroke-width="0.12">ΔT</text>
<text transform="translate(197.6,321.4) scale(0.88,1)" font-size="5.49" text-anchor="middle" fill="#2a2a2a" font-weight="normal" font-family="'Liberation Sans', Arial, sans-serif" dominant-baseline="central"  stroke="#2a2a2a" stroke-width="0.12">20.006 s</text>
<text transform="translate(216.8,321.4) scale(0.88,1)" font-size="5.49" text-anchor="start" fill="#2a2a2a" font-weight="normal" font-family="'Liberation Sans', Arial, sans-serif" dominant-baseline="central"  stroke="#2a2a2a" stroke-width="0.12">ΔY</text>
<text transform="translate(253,321.4) scale(0.88,1)" font-size="5.49" text-anchor="end" fill="#2a2a2a" font-weight="normal" font-family="'Liberation Sans', Arial, sans-serif" dominant-baseline="central"  stroke="#2a2a2a" stroke-width="0.12">6.946e-04</text>
<line x1="174.4" y1="331" x2="257.6" y2="331" stroke="#7a7a7a" stroke-width="1.3" />
<text transform="translate(193.6,336.4) scale(0.88,1)" font-size="5.49" text-anchor="middle" fill="#2a2a2a" font-weight="normal" font-family="'Liberation Sans', Arial, sans-serif" dominant-baseline="central"  stroke="#2a2a2a" stroke-width="0.12">1 / ΔT</text>
<text transform="translate(238,336.4) scale(0.88,1)" font-size="5.49" text-anchor="middle" fill="#2a2a2a" font-weight="normal" font-family="'Liberation Sans', Arial, sans-serif" dominant-baseline="central"  stroke="#2a2a2a" stroke-width="0.12">49.984 mHz</text>
<text transform="translate(193.6,345) scale(0.88,1)" font-size="5.49" text-anchor="middle" fill="#2a2a2a" font-weight="normal" font-family="'Liberation Sans', Arial, sans-serif" dominant-baseline="central"  stroke="#2a2a2a" stroke-width="0.12">ΔY / ΔT</text>
<text transform="translate(238,345) scale(0.88,1)" font-size="5.49" text-anchor="middle" fill="#2a2a2a" font-weight="normal" font-family="'Liberation Sans', Arial, sans-serif" dominant-baseline="central"  stroke="#2a2a2a" stroke-width="0.12">34.721 (/Ms)</text>
<rect x="162.25" y="271.25" width="1.5" height="1.5" fill="#1a1a1a"/>
<rect x="162.25" y="274.65" width="1.5" height="1.5" fill="#1a1a1a"/>
<rect x="162.25" y="278.05" width="1.5" height="1.5" fill="#1a1a1a"/>
<rect x="162.25" y="281.45" width="1.5" height="1.5" fill="#1a1a1a"/>
<rect x="162.25" y="284.85" width="1.5" height="1.5" fill="#1a1a1a"/>
<rect x="448.1" y="269.2" width="93.5" height="86.8" fill="#fff" stroke="#b0b0b0" stroke-width="0.8" />
<text transform="translate(450.3,273.2) scale(0.88,1)" font-size="3.6" text-anchor="start" fill="#333" font-weight="normal" font-family="'Liberation Sans', Arial, sans-serif" dominant-baseline="central"  stroke="#333" stroke-width="0.12">⇕</text>
<text transform="translate(453.1,273.2) scale(0.88,1)" font-size="3.4" text-anchor="start" fill="#222" font-weight="normal" font-family="'Liberation Sans', Arial, sans-serif" dominant-baseline="central"  stroke="#222" stroke-width="0.12">▼</text>
<text x="457.9" y="273.2" font-size="5.0" text-anchor="start" fill="#1a1a1a" font-weight="bold" font-family="'Liberation Sans', Arial, sans-serif" dominant-baseline="central"  stroke="#1a1a1a" stroke-width="0.12">Cursor Measurements</text>
<text transform="translate(533.3,273.2) scale(0.88,1)" font-size="3.6" text-anchor="start" fill="#333" font-weight="normal" font-family="'Liberation Sans', Arial, sans-serif" dominant-baseline="central"  stroke="#333" stroke-width="0.12">▸</text>
<text transform="translate(536.4,273.2) scale(0.88,1)" font-size="3.8" text-anchor="start" fill="#333" font-weight="normal" font-family="'Liberation Sans', Arial, sans-serif" dominant-baseline="central"  stroke="#333" stroke-width="0.12">✕</text>
<text transform="translate(449.9,281.4) scale(0.88,1)" font-size="3.6" text-anchor="start" fill="#111" font-weight="normal" font-family="'Liberation Sans', Arial, sans-serif" dominant-baseline="central"  stroke="#111" stroke-width="0.12">▶</text>
<text transform="translate(454.1,281.4) scale(0.88,1)" font-size="5.890000000000001" text-anchor="start" fill="#2a2a2a" font-weight="normal" font-family="'Liberation Sans', Arial, sans-serif" dominant-baseline="central"  stroke="#2a2a2a" stroke-width="0.12">Settings</text>
<text transform="translate(449.7,290.1) scale(0.88,1)" font-size="3.8" text-anchor="start" fill="#111" font-weight="normal" font-family="'Liberation Sans', Arial, sans-serif" dominant-baseline="central"  stroke="#111" stroke-width="0.12">▼</text>
<text transform="translate(453.7,290.1) scale(0.88,1)" font-size="5.890000000000001" text-anchor="start" fill="#2a2a2a" font-weight="normal" font-family="'Liberation Sans', Arial, sans-serif" dominant-baseline="central"  stroke="#2a2a2a" stroke-width="0.12">Measurements</text>
<rect x="450.2" y="294.6" width="89.8" height="59.8" fill="#fff" stroke="#c4c4c4" stroke-width="0.7" />
<text transform="translate(476.75,299.1) scale(0.88,1)" font-size="5.49" text-anchor="middle" fill="#2a2a2a" font-weight="normal" font-family="'Liberation Sans', Arial, sans-serif" dominant-baseline="central"  stroke="#2a2a2a" stroke-width="0.12">Time</text>
<text transform="translate(521,299.1) scale(0.88,1)" font-size="5.49" text-anchor="middle" fill="#2a2a2a" font-weight="normal" font-family="'Liberation Sans', Arial, sans-serif" dominant-baseline="central"  stroke="#2a2a2a" stroke-width="0.12">Value</text>
<rect x="458.9" y="303.4" width="35.7" height="7.9" fill="#e6e6e6" stroke="#c8c8c8" stroke-width="0.6" />
<text transform="translate(452.5,307.5) scale(0.88,1)" font-size="5.49" text-anchor="start" fill="#2a2a2a" font-weight="normal" font-family="'Liberation Sans', Arial, sans-serif" dominant-baseline="central"  stroke="#2a2a2a" stroke-width="0.12">1 :</text>
<text transform="translate(476.75,307.5) scale(0.88,1)" font-size="5.49" text-anchor="middle" fill="#333" font-weight="normal" font-family="'Liberation Sans', Arial, sans-serif" dominant-baseline="central"  stroke="#333" stroke-width="0.12">2.513</text>
<text transform="translate(532,307.5) scale(0.88,1)" font-size="5.49" text-anchor="end" fill="#2a2a2a" font-weight="normal" font-family="'Liberation Sans', Arial, sans-serif" dominant-baseline="central"  stroke="#2a2a2a" stroke-width="0.12">-4.278e-02</text>
<rect x="458.9" y="311.7" width="35.7" height="7.9" fill="#e6e6e6" stroke="#c8c8c8" stroke-width="0.6" />
<text transform="translate(452.5,315.4) scale(0.88,1)" font-size="5.49" text-anchor="start" fill="#2a2a2a" font-weight="normal" font-family="'Liberation Sans', Arial, sans-serif" dominant-baseline="central"  stroke="#2a2a2a" stroke-width="0.12">2 :</text>
<text transform="translate(476.75,315.4) scale(0.88,1)" font-size="5.49" text-anchor="middle" fill="#333" font-weight="normal" font-family="'Liberation Sans', Arial, sans-serif" dominant-baseline="central"  stroke="#333" stroke-width="0.12">22.500</text>
<text transform="translate(532,315.4) scale(0.88,1)" font-size="5.49" text-anchor="end" fill="#2a2a2a" font-weight="normal" font-family="'Liberation Sans', Arial, sans-serif" dominant-baseline="central"  stroke="#2a2a2a" stroke-width="0.12">1.470e-02</text>
<text transform="translate(452.5,324.6) scale(0.88,1)" font-size="5.49" text-anchor="start" fill="#2a2a2a" font-weight="normal" font-family="'Liberation Sans', Arial, sans-serif" dominant-baseline="central"  stroke="#2a2a2a" stroke-width="0.12">ΔT</text>
<text transform="translate(476.75,324.6) scale(0.88,1)" font-size="5.49" text-anchor="middle" fill="#2a2a2a" font-weight="normal" font-family="'Liberation Sans', Arial, sans-serif" dominant-baseline="central"  stroke="#2a2a2a" stroke-width="0.12">19.987 s</text>
<text transform="translate(495,324.6) scale(0.88,1)" font-size="5.49" text-anchor="start" fill="#2a2a2a" font-weight="normal" font-family="'Liberation Sans', Arial, sans-serif" dominant-baseline="central"  stroke="#2a2a2a" stroke-width="0.12">ΔY</text>
<text transform="translate(532,324.6) scale(0.88,1)" font-size="5.49" text-anchor="end" fill="#2a2a2a" font-weight="normal" font-family="'Liberation Sans', Arial, sans-serif" dominant-baseline="central"  stroke="#2a2a2a" stroke-width="0.12">5.748e-02</text>
<line x1="454.4" y1="333.6" x2="535.6" y2="333.6" stroke="#7a7a7a" stroke-width="1.3" />
<text transform="translate(472.75,339.4) scale(0.88,1)" font-size="5.49" text-anchor="middle" fill="#2a2a2a" font-weight="normal" font-family="'Liberation Sans', Arial, sans-serif" dominant-baseline="central"  stroke="#2a2a2a" stroke-width="0.12">1 / ΔT</text>
<text transform="translate(517,339.4) scale(0.88,1)" font-size="5.49" text-anchor="middle" fill="#2a2a2a" font-weight="normal" font-family="'Liberation Sans', Arial, sans-serif" dominant-baseline="central"  stroke="#2a2a2a" stroke-width="0.12">50.032 mHz</text>
<text transform="translate(472.75,347.4) scale(0.88,1)" font-size="5.49" text-anchor="middle" fill="#2a2a2a" font-weight="normal" font-family="'Liberation Sans', Arial, sans-serif" dominant-baseline="central"  stroke="#2a2a2a" stroke-width="0.12">ΔY / ΔT</text>
<text transform="translate(517,347.4) scale(0.88,1)" font-size="5.49" text-anchor="middle" fill="#2a2a2a" font-weight="normal" font-family="'Liberation Sans', Arial, sans-serif" dominant-baseline="central"  stroke="#2a2a2a" stroke-width="0.12">2.876 (/ks)</text>
<rect x="442.75" y="273.95" width="1.5" height="1.5" fill="#1a1a1a"/>
<rect x="442.75" y="277.4" width="1.5" height="1.5" fill="#1a1a1a"/>
<rect x="442.75" y="280.85" width="1.5" height="1.5" fill="#1a1a1a"/>
<rect x="442.75" y="284.3" width="1.5" height="1.5" fill="#1a1a1a"/>
<rect x="442.75" y="287.75" width="1.5" height="1.5" fill="#1a1a1a"/>
<rect x="159.5" y="-1" width="116.5" height="7.5" fill="#fff" stroke="none" stroke-width="1" />
<rect x="438.5" y="-1" width="112.5" height="6.4" fill="#fff" stroke="none" stroke-width="1" />
<rect x="160" y="186" width="116" height="5.6" fill="#fff" stroke="none" stroke-width="1" />
<rect x="263.9" y="186" width="12.1" height="174" fill="#fff" stroke="none" stroke-width="1" />
<rect x="440" y="186" width="111" height="8.6" fill="#fff" stroke="none" stroke-width="1" />
</svg>
<svg width="550" height="393" viewBox="0 0 550 393" style="position:absolute;left:0;top:0">
<text x="71.8" y="180.6" font-size="14.5" textLength="124.5" lengthAdjust="spacing" font-family="'Liberation Serif', 'Times New Roman', serif" fill="#111" stroke="#111" stroke-width="0.25">(<tspan font-weight="bold">c</tspan>) state variable <tspan font-style="italic">x</tspan><tspan font-size="8.5" dy="2.2">3</tspan><tspan dy="-2.2">(</tspan><tspan font-style="italic">t</tspan>)</text>
<text x="352.8" y="181.7" font-size="14.5" textLength="122.7" lengthAdjust="spacing" font-family="'Liberation Serif', 'Times New Roman', serif" fill="#111" stroke="#111" stroke-width="0.25">(<tspan font-weight="bold">d</tspan>) control signal <tspan font-style="italic">u</tspan>(<tspan font-style="italic">t</tspan>)</text>
<text x="57.1" y="383.8" font-size="14.5" textLength="46.3" lengthAdjust="spacing" font-family="'Liberation Serif', 'Times New Roman', serif" fill="#111" stroke="#111" stroke-width="0.25">(<tspan font-weight="bold">e</tspan>) error</text>
<text x="113.6" y="383.8" font-size="14.5" textLength="97" lengthAdjust="spacing" font-family="'Liberation Serif', 'Times New Roman', serif" fill="#111" stroke="#111" stroke-width="0.25"><tspan font-style="italic">e</tspan>(<tspan font-style="italic">t</tspan>)=<tspan font-style="italic">x</tspan><tspan font-size="8.5" dy="2.2">1</tspan><tspan dy="-2.2">(0)−</tspan><tspan font-style="italic">x</tspan><tspan font-size="8.5" dy="2.2">1</tspan><tspan dy="-2.2">(</tspan><tspan font-style="italic">t</tspan>)</text>
<text x="328.9" y="382.5" font-size="14.5" textLength="170" lengthAdjust="spacing" font-family="'Liberation Serif', 'Times New Roman', serif" fill="#111" stroke="#111" stroke-width="0.25">(<tspan font-weight="bold">f</tspan>) sliding mode variable <tspan font-style="italic">σ</tspan>(<tspan font-style="italic">t</tspan>)</text>
</svg>
</body></html>
